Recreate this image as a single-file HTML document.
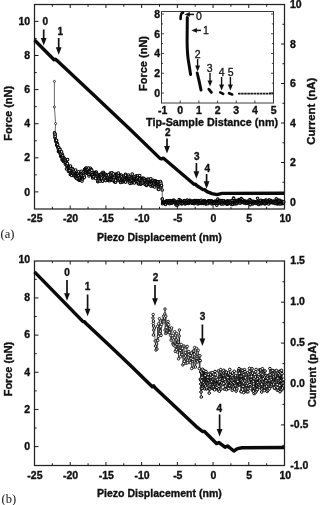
<!DOCTYPE html>
<html><head><meta charset="utf-8"><title>Figure</title>
<style>html,body{margin:0;padding:0;background:#fff}svg{display:block}</style></head>
<body>
<svg width="320" height="505" viewBox="0 0 320 505" font-family="Liberation Sans, sans-serif" fill="#111">
<rect width="320" height="505" fill="#fff"/>
<rect x="34.5" y="4.5" width="250.0" height="204.5" fill="none" stroke="#222" stroke-width="1.25"/>
<line x1="52.36" y1="209.00" x2="52.36" y2="206.80" stroke="#1a1a1a" stroke-width="1"/>
<line x1="52.36" y1="4.50" x2="52.36" y2="6.70" stroke="#1a1a1a" stroke-width="1"/>
<line x1="70.21" y1="209.00" x2="70.21" y2="205.50" stroke="#1a1a1a" stroke-width="1"/>
<line x1="70.21" y1="4.50" x2="70.21" y2="8.00" stroke="#1a1a1a" stroke-width="1"/>
<line x1="88.07" y1="209.00" x2="88.07" y2="206.80" stroke="#1a1a1a" stroke-width="1"/>
<line x1="88.07" y1="4.50" x2="88.07" y2="6.70" stroke="#1a1a1a" stroke-width="1"/>
<line x1="105.93" y1="209.00" x2="105.93" y2="205.50" stroke="#1a1a1a" stroke-width="1"/>
<line x1="105.93" y1="4.50" x2="105.93" y2="8.00" stroke="#1a1a1a" stroke-width="1"/>
<line x1="123.79" y1="209.00" x2="123.79" y2="206.80" stroke="#1a1a1a" stroke-width="1"/>
<line x1="123.79" y1="4.50" x2="123.79" y2="6.70" stroke="#1a1a1a" stroke-width="1"/>
<line x1="141.64" y1="209.00" x2="141.64" y2="205.50" stroke="#1a1a1a" stroke-width="1"/>
<line x1="141.64" y1="4.50" x2="141.64" y2="8.00" stroke="#1a1a1a" stroke-width="1"/>
<line x1="159.50" y1="209.00" x2="159.50" y2="206.80" stroke="#1a1a1a" stroke-width="1"/>
<line x1="159.50" y1="4.50" x2="159.50" y2="6.70" stroke="#1a1a1a" stroke-width="1"/>
<line x1="177.36" y1="209.00" x2="177.36" y2="205.50" stroke="#1a1a1a" stroke-width="1"/>
<line x1="177.36" y1="4.50" x2="177.36" y2="8.00" stroke="#1a1a1a" stroke-width="1"/>
<line x1="195.21" y1="209.00" x2="195.21" y2="206.80" stroke="#1a1a1a" stroke-width="1"/>
<line x1="195.21" y1="4.50" x2="195.21" y2="6.70" stroke="#1a1a1a" stroke-width="1"/>
<line x1="213.07" y1="209.00" x2="213.07" y2="205.50" stroke="#1a1a1a" stroke-width="1"/>
<line x1="213.07" y1="4.50" x2="213.07" y2="8.00" stroke="#1a1a1a" stroke-width="1"/>
<line x1="230.93" y1="209.00" x2="230.93" y2="206.80" stroke="#1a1a1a" stroke-width="1"/>
<line x1="230.93" y1="4.50" x2="230.93" y2="6.70" stroke="#1a1a1a" stroke-width="1"/>
<line x1="248.79" y1="209.00" x2="248.79" y2="205.50" stroke="#1a1a1a" stroke-width="1"/>
<line x1="248.79" y1="4.50" x2="248.79" y2="8.00" stroke="#1a1a1a" stroke-width="1"/>
<line x1="266.64" y1="209.00" x2="266.64" y2="206.80" stroke="#1a1a1a" stroke-width="1"/>
<line x1="266.64" y1="4.50" x2="266.64" y2="6.70" stroke="#1a1a1a" stroke-width="1"/>
<line x1="34.50" y1="191.90" x2="38.50" y2="191.90" stroke="#1a1a1a" stroke-width="1"/>
<line x1="34.50" y1="174.85" x2="36.70" y2="174.85" stroke="#1a1a1a" stroke-width="1"/>
<line x1="34.50" y1="157.80" x2="38.50" y2="157.80" stroke="#1a1a1a" stroke-width="1"/>
<line x1="34.50" y1="140.75" x2="36.70" y2="140.75" stroke="#1a1a1a" stroke-width="1"/>
<line x1="34.50" y1="123.70" x2="38.50" y2="123.70" stroke="#1a1a1a" stroke-width="1"/>
<line x1="34.50" y1="106.65" x2="36.70" y2="106.65" stroke="#1a1a1a" stroke-width="1"/>
<line x1="34.50" y1="89.60" x2="38.50" y2="89.60" stroke="#1a1a1a" stroke-width="1"/>
<line x1="34.50" y1="72.55" x2="36.70" y2="72.55" stroke="#1a1a1a" stroke-width="1"/>
<line x1="34.50" y1="55.50" x2="38.50" y2="55.50" stroke="#1a1a1a" stroke-width="1"/>
<line x1="34.50" y1="38.45" x2="36.70" y2="38.45" stroke="#1a1a1a" stroke-width="1"/>
<line x1="34.50" y1="21.40" x2="38.50" y2="21.40" stroke="#1a1a1a" stroke-width="1"/>
<line x1="284.50" y1="202.00" x2="281.00" y2="202.00" stroke="#1a1a1a" stroke-width="1"/>
<line x1="284.50" y1="182.25" x2="282.40" y2="182.25" stroke="#1a1a1a" stroke-width="1"/>
<line x1="284.50" y1="162.50" x2="281.00" y2="162.50" stroke="#1a1a1a" stroke-width="1"/>
<line x1="284.50" y1="142.75" x2="282.40" y2="142.75" stroke="#1a1a1a" stroke-width="1"/>
<line x1="284.50" y1="123.00" x2="281.00" y2="123.00" stroke="#1a1a1a" stroke-width="1"/>
<line x1="284.50" y1="103.25" x2="282.40" y2="103.25" stroke="#1a1a1a" stroke-width="1"/>
<line x1="284.50" y1="83.50" x2="281.00" y2="83.50" stroke="#1a1a1a" stroke-width="1"/>
<line x1="284.50" y1="63.75" x2="282.40" y2="63.75" stroke="#1a1a1a" stroke-width="1"/>
<line x1="284.50" y1="44.00" x2="281.00" y2="44.00" stroke="#1a1a1a" stroke-width="1"/>
<line x1="284.50" y1="24.25" x2="282.40" y2="24.25" stroke="#1a1a1a" stroke-width="1"/>
<text x="30.2" y="195.5" font-size="10.5" text-anchor="end" font-weight="bold" stroke="#111" stroke-width="0.35" >0</text>
<text x="30.2" y="161.4" font-size="10.5" text-anchor="end" font-weight="bold" stroke="#111" stroke-width="0.35" >2</text>
<text x="30.2" y="127.3" font-size="10.5" text-anchor="end" font-weight="bold" stroke="#111" stroke-width="0.35" >4</text>
<text x="30.2" y="93.2" font-size="10.5" text-anchor="end" font-weight="bold" stroke="#111" stroke-width="0.35" >6</text>
<text x="30.2" y="59.1" font-size="10.5" text-anchor="end" font-weight="bold" stroke="#111" stroke-width="0.35" >8</text>
<text x="30.2" y="25.0" font-size="10.5" text-anchor="end" font-weight="bold" stroke="#111" stroke-width="0.35" >10</text>
<text x="290" y="205.6" font-size="10.5" text-anchor="start" font-weight="bold" stroke="#111" stroke-width="0.35" >0</text>
<text x="290" y="166.1" font-size="10.5" text-anchor="start" font-weight="bold" stroke="#111" stroke-width="0.35" >2</text>
<text x="290" y="126.6" font-size="10.5" text-anchor="start" font-weight="bold" stroke="#111" stroke-width="0.35" >4</text>
<text x="290" y="87.1" font-size="10.5" text-anchor="start" font-weight="bold" stroke="#111" stroke-width="0.35" >6</text>
<text x="290" y="47.6" font-size="10.5" text-anchor="start" font-weight="bold" stroke="#111" stroke-width="0.35" >8</text>
<text x="290" y="7.8" font-size="10.5" text-anchor="start" font-weight="bold" stroke="#111" stroke-width="0.35" >10</text>
<text x="34.9" y="222.1" font-size="10.5" text-anchor="middle" font-weight="bold" stroke="#111" stroke-width="0.35" >-25</text>
<text x="70.60000000000001" y="222.1" font-size="10.5" text-anchor="middle" font-weight="bold" stroke="#111" stroke-width="0.35" >-20</text>
<text x="106.30000000000001" y="222.1" font-size="10.5" text-anchor="middle" font-weight="bold" stroke="#111" stroke-width="0.35" >-15</text>
<text x="142.0" y="222.1" font-size="10.5" text-anchor="middle" font-weight="bold" stroke="#111" stroke-width="0.35" >-10</text>
<text x="177.8" y="222.1" font-size="10.5" text-anchor="middle" font-weight="bold" stroke="#111" stroke-width="0.35" >-5</text>
<text x="213.4" y="222.1" font-size="10.5" text-anchor="middle" font-weight="bold" stroke="#111" stroke-width="0.35" >0</text>
<text x="249.10000000000002" y="222.1" font-size="10.5" text-anchor="middle" font-weight="bold" stroke="#111" stroke-width="0.35" >5</text>
<text x="285.3" y="222.1" font-size="10.5" text-anchor="middle" font-weight="bold" stroke="#111" stroke-width="0.35" >10</text>
<text x="12" y="113.3" font-size="11" text-anchor="middle" font-weight="bold" stroke="#111" stroke-width="0.35" textLength="55" lengthAdjust="spacingAndGlyphs" transform="rotate(-90 12 113.3)" >Force (nN)</text>
<text x="315.3" y="111.3" font-size="11" text-anchor="middle" font-weight="bold" stroke="#111" stroke-width="0.35" textLength="67" lengthAdjust="spacingAndGlyphs" transform="rotate(-90 315.3 111.3)" >Current (nA)</text>
<text x="97" y="241" font-size="11" text-anchor="start" font-weight="bold" stroke="#111" stroke-width="0.35" textLength="124.8" lengthAdjust="spacingAndGlyphs" >Piezo Displacement (nm)</text>
<text x="0.5" y="237.5" font-size="12.5" font-family="Liberation Serif, serif">(a)</text>
<path d="M55.0,134.0 L54.5,132.9 L54.9,134.6 L54.9,137.6 L55.2,136.2 L55.6,140.1 L55.9,141.6 L56.1,140.4 L56.5,140.6 L56.5,140.2 L56.7,145.3 L57.2,143.2 L57.2,143.7 L57.7,144.8 L57.8,147.1 L58.2,148.5 L58.4,151.5 L58.7,147.6 L58.8,150.4 L59.0,151.0 L59.5,150.9 L59.8,149.0 L59.9,149.5 L60.2,152.8 L60.2,153.8 L60.7,156.2 L60.8,153.6 L60.9,154.0 L61.2,156.6 L61.5,151.9 L61.7,156.8 L62.1,159.4 L62.3,154.2 L62.5,160.1 L62.7,155.9 L63.0,157.4 L63.2,157.8 L63.5,161.2 L63.9,159.9 L64.2,158.2 L64.5,162.0 L64.6,161.6 L64.7,159.2 L65.0,159.3 L65.2,160.2 L65.4,164.3 L65.9,161.2 L66.0,162.6 L66.5,168.9 L66.6,165.2 L66.8,163.7 L67.2,165.6 L67.4,163.6 L67.6,159.6 L68.0,167.8 L68.0,167.0 L68.4,171.3 L68.5,166.7 L69.0,167.6 L69.2,170.5 L69.3,166.2 L69.4,167.1 L70.0,170.6 L70.3,174.5 L70.2,167.4 L70.5,166.1 L71.0,168.5 L71.2,174.4 L71.5,173.9 L71.7,171.8 L71.8,175.5 L72.3,168.6 L72.4,170.7 L72.5,170.9 L72.7,173.7 L73.3,172.9 L73.2,169.9 L73.8,171.6 L73.8,175.7 L74.2,171.0 L74.2,175.2 L74.5,174.8 L74.8,175.4 L75.1,175.3 L75.4,175.9 L75.6,170.1 L75.7,177.5 L76.0,174.6 L76.3,173.9 L76.6,178.6 L76.7,174.4 L77.2,173.8 L77.5,174.3 L77.6,174.0 L77.8,175.8 L78.1,178.6 L78.5,171.8 L78.6,179.8 L78.7,175.1 L78.9,175.6 L79.5,180.2 L79.5,177.8 L80.0,179.7 L80.0,179.1 L80.5,179.8 L80.5,174.8 L80.7,174.7 L81.2,171.3 L81.2,174.4 L81.6,179.1 L82.0,181.1 L81.9,175.9 L82.3,173.2 L82.6,179.0 L82.7,177.7 L83.1,176.8 L83.4,174.3 L83.4,176.6 L83.7,175.5 L83.9,175.8 L84.4,177.3 L84.5,169.5 L84.7,170.1 L84.9,169.9 L85.5,171.5 L85.6,169.3 L85.8,168.0 L86.2,172.3 L86.5,169.2 L86.7,168.4 L86.8,171.0 L87.2,173.4 L87.4,173.3 L87.6,169.6 L87.7,172.2 L88.0,169.2 L88.5,172.7 L88.5,168.1 L88.7,171.4 L89.0,175.9 L89.2,174.5 L89.5,171.1 L89.8,171.4 L90.0,172.5 L90.2,171.2 L90.4,168.2 L90.9,173.6 L91.2,173.7 L91.3,169.6 L91.8,170.4 L91.7,174.9 L92.3,174.9 L92.2,172.5 L92.6,178.0 L92.9,176.1 L93.2,176.7 L93.2,174.5 L93.4,176.8 L93.9,176.7 L94.1,172.6 L94.4,174.7 L94.7,172.8 L94.7,173.7 L95.2,174.0 L95.3,172.7 L95.6,178.4 L95.9,172.0 L96.0,175.0 L96.4,172.2 L96.4,174.4 L96.9,173.8 L97.1,176.2 L97.5,174.7 L97.8,181.7 L98.0,180.9 L98.1,175.8 L98.2,180.2 L98.5,177.8 L99.0,176.9 L99.3,178.9 L99.3,175.5 L99.4,176.0 L99.7,176.0 L100.0,181.1 L100.5,174.4 L100.8,179.2 L100.8,175.7 L101.3,176.9 L101.3,174.8 L101.4,178.7 L101.7,177.9 L102.1,173.0 L102.5,181.1 L102.7,181.1 L102.9,173.4 L103.2,176.7 L103.3,172.4 L103.8,173.5 L103.8,178.8 L104.3,174.9 L104.4,175.5 L104.5,175.4 L104.8,177.5 L105.3,179.9 L105.2,174.5 L105.5,174.4 L105.9,180.6 L106.2,175.4 L106.3,176.8 L106.4,176.2 L106.9,178.0 L107.2,175.2 L107.3,177.7 L107.8,179.8 L107.7,178.5 L108.3,177.1 L108.3,180.2 L108.7,180.6 L108.7,174.9 L109.1,180.2 L109.4,178.6 L109.6,179.6 L109.7,180.7 L110.2,176.7 L110.4,179.4 L110.4,173.1 L110.8,175.4 L111.1,173.8 L111.5,179.7 L111.8,177.5 L112.0,179.8 L112.0,172.7 L112.3,176.0 L112.7,180.5 L112.8,177.4 L113.2,176.1 L113.4,173.9 L113.8,176.7 L113.7,178.8 L114.0,180.1 L114.2,177.2 L114.7,181.5 L114.7,181.9 L115.0,175.8 L115.5,180.8 L115.7,182.1 L115.7,180.4 L116.2,174.1 L116.3,175.8 L116.5,174.3 L117.0,176.4 L117.3,174.7 L117.5,179.1 L117.4,176.1 L117.7,178.8 L118.3,173.1 L118.5,176.0 L118.4,175.8 L118.9,180.4 L119.0,178.0 L119.3,179.2 L119.5,178.5 L120.0,179.1 L120.3,175.1 L120.5,182.5 L120.6,175.4 L121.0,176.6 L121.2,180.7 L121.4,175.4 L121.5,177.5 L121.7,179.6 L122.0,176.7 L122.3,181.9 L122.8,181.7 L122.7,178.9 L123.2,178.2 L123.4,180.8 L123.7,180.5 L124.0,176.6 L124.1,177.6 L124.2,176.1 L124.5,180.3 L124.8,181.5 L125.1,177.3 L125.5,174.4 L125.6,182.1 L125.7,175.2 L125.9,178.0 L126.5,177.6 L126.7,178.3 L127.0,178.0 L127.1,179.8 L127.2,177.8 L127.5,179.0 L127.7,177.0 L128.2,176.4 L128.5,179.9 L128.4,175.1 L128.9,177.0 L129.0,179.5 L129.3,182.5 L129.5,178.7 L130.0,183.3 L130.0,176.9 L130.2,181.0 L130.6,179.4 L130.8,178.1 L130.9,178.0 L131.2,178.2 L131.5,179.8 L131.9,182.9 L131.9,180.2 L132.2,174.1 L132.8,182.3 L133.0,178.7 L133.3,180.6 L133.5,177.0 L133.6,182.2 L133.7,178.3 L134.1,179.4 L134.4,182.9 L134.4,180.1 L135.0,176.8 L135.1,179.4 L135.3,179.7 L135.6,179.8 L135.7,181.1 L136.1,178.3 L136.3,175.9 L136.6,178.1 L136.7,180.5 L137.1,176.6 L137.4,181.6 L137.6,176.0 L138.0,177.7 L138.2,183.4 L138.2,181.5 L138.6,184.0 L139.0,182.9 L138.9,179.4 L139.5,178.2 L139.7,175.5 L139.7,178.8 L140.1,180.0 L140.2,183.7 L140.7,184.2 L140.7,182.5 L141.2,180.7 L141.4,182.3 L141.4,183.3 L142.0,178.4 L142.3,180.1 L142.3,180.1 L142.7,178.2 L142.9,183.5 L143.1,182.1 L143.2,178.7 L143.6,178.2 L143.7,179.0 L144.2,178.9 L144.2,180.2 L144.5,181.1 L144.9,180.7 L145.0,184.3 L145.2,182.9 L145.7,182.6 L145.7,182.9 L146.1,179.7 L146.5,182.1 L146.5,185.5 L146.8,180.1 L146.9,184.8 L147.5,179.3 L147.5,180.8 L148.0,179.4 L148.0,182.6 L148.5,183.9 L148.4,184.1 L148.9,180.3 L149.0,179.2 L149.3,183.9 L149.7,184.1 L149.9,180.7 L150.2,182.0 L150.5,181.8 L150.8,178.8 L150.9,186.1 L151.2,181.9 L151.2,184.5 L151.7,182.3 L151.8,182.3 L152.2,183.5 L152.4,182.1 L152.5,185.8 L152.7,180.8 L152.9,185.5 L153.2,180.4 L153.7,183.4 L153.7,182.1 L154.0,186.4 L154.2,183.8 L154.8,187.0 L154.7,180.8 L155.2,184.3 L155.4,180.7 L155.4,181.0 L155.8,182.6 L155.9,181.9 L156.3,184.5 L156.8,185.0 L156.7,182.3 L157.1,185.1 L157.4,183.8 L157.7,181.9 L157.7,181.8 L158.2,189.1 L158.3,186.6 L158.5,183.4 L158.8,189.4 L159.0,182.4 L159.2,184.6 L159.4,186.2 L159.9,182.2 L160.1,184.7 L160.5,181.6 L160.5,184.6 L160.8,187.1 L161.0,183.2 L161.5,186.0 L161.5,185.5 L162.2,190.0 L162.3,199.0" stroke="#000" stroke-width="0.6" fill="none"/>
<g fill="#fff" stroke="#000" stroke-width="1.05">
<circle cx="55.0" cy="134.0" r="1.3"/>
<circle cx="54.5" cy="132.9" r="1.3"/>
<circle cx="54.9" cy="134.6" r="1.3"/>
<circle cx="54.9" cy="137.6" r="1.3"/>
<circle cx="55.2" cy="136.2" r="1.3"/>
<circle cx="55.6" cy="140.1" r="1.3"/>
<circle cx="55.9" cy="141.6" r="1.3"/>
<circle cx="56.1" cy="140.4" r="1.3"/>
<circle cx="56.5" cy="140.6" r="1.3"/>
<circle cx="56.5" cy="140.2" r="1.3"/>
<circle cx="56.7" cy="145.3" r="1.3"/>
<circle cx="57.2" cy="143.2" r="1.3"/>
<circle cx="57.2" cy="143.7" r="1.3"/>
<circle cx="57.7" cy="144.8" r="1.3"/>
<circle cx="57.8" cy="147.1" r="1.3"/>
<circle cx="58.2" cy="148.5" r="1.3"/>
<circle cx="58.4" cy="151.5" r="1.3"/>
<circle cx="58.7" cy="147.6" r="1.3"/>
<circle cx="58.8" cy="150.4" r="1.3"/>
<circle cx="59.0" cy="151.0" r="1.3"/>
<circle cx="59.5" cy="150.9" r="1.3"/>
<circle cx="59.8" cy="149.0" r="1.3"/>
<circle cx="59.9" cy="149.5" r="1.3"/>
<circle cx="60.2" cy="152.8" r="1.3"/>
<circle cx="60.2" cy="153.8" r="1.3"/>
<circle cx="60.7" cy="156.2" r="1.3"/>
<circle cx="60.8" cy="153.6" r="1.3"/>
<circle cx="60.9" cy="154.0" r="1.3"/>
<circle cx="61.2" cy="156.6" r="1.3"/>
<circle cx="61.5" cy="151.9" r="1.3"/>
<circle cx="61.7" cy="156.8" r="1.3"/>
<circle cx="62.1" cy="159.4" r="1.3"/>
<circle cx="62.3" cy="154.2" r="1.3"/>
<circle cx="62.5" cy="160.1" r="1.3"/>
<circle cx="62.7" cy="155.9" r="1.3"/>
<circle cx="63.0" cy="157.4" r="1.3"/>
<circle cx="63.2" cy="157.8" r="1.3"/>
<circle cx="63.5" cy="161.2" r="1.3"/>
<circle cx="63.9" cy="159.9" r="1.3"/>
<circle cx="64.2" cy="158.2" r="1.3"/>
<circle cx="64.5" cy="162.0" r="1.3"/>
<circle cx="64.6" cy="161.6" r="1.3"/>
<circle cx="64.7" cy="159.2" r="1.3"/>
<circle cx="65.0" cy="159.3" r="1.3"/>
<circle cx="65.2" cy="160.2" r="1.3"/>
<circle cx="65.4" cy="164.3" r="1.3"/>
<circle cx="65.9" cy="161.2" r="1.3"/>
<circle cx="66.0" cy="162.6" r="1.3"/>
<circle cx="66.5" cy="168.9" r="1.3"/>
<circle cx="66.6" cy="165.2" r="1.3"/>
<circle cx="66.8" cy="163.7" r="1.3"/>
<circle cx="67.2" cy="165.6" r="1.3"/>
<circle cx="67.4" cy="163.6" r="1.3"/>
<circle cx="67.6" cy="159.6" r="1.3"/>
<circle cx="68.0" cy="167.8" r="1.3"/>
<circle cx="68.0" cy="167.0" r="1.3"/>
<circle cx="68.4" cy="171.3" r="1.3"/>
<circle cx="68.5" cy="166.7" r="1.3"/>
<circle cx="69.0" cy="167.6" r="1.3"/>
<circle cx="69.2" cy="170.5" r="1.3"/>
<circle cx="69.3" cy="166.2" r="1.3"/>
<circle cx="69.4" cy="167.1" r="1.3"/>
<circle cx="70.0" cy="170.6" r="1.3"/>
<circle cx="70.3" cy="174.5" r="1.3"/>
<circle cx="70.2" cy="167.4" r="1.3"/>
<circle cx="70.5" cy="166.1" r="1.3"/>
<circle cx="71.0" cy="168.5" r="1.3"/>
<circle cx="71.2" cy="174.4" r="1.3"/>
<circle cx="71.5" cy="173.9" r="1.3"/>
<circle cx="71.7" cy="171.8" r="1.3"/>
<circle cx="71.8" cy="175.5" r="1.3"/>
<circle cx="72.3" cy="168.6" r="1.3"/>
<circle cx="72.4" cy="170.7" r="1.3"/>
<circle cx="72.5" cy="170.9" r="1.3"/>
<circle cx="72.7" cy="173.7" r="1.3"/>
<circle cx="73.3" cy="172.9" r="1.3"/>
<circle cx="73.2" cy="169.9" r="1.3"/>
<circle cx="73.8" cy="171.6" r="1.3"/>
<circle cx="73.8" cy="175.7" r="1.3"/>
<circle cx="74.2" cy="171.0" r="1.3"/>
<circle cx="74.2" cy="175.2" r="1.3"/>
<circle cx="74.5" cy="174.8" r="1.3"/>
<circle cx="74.8" cy="175.4" r="1.3"/>
<circle cx="75.1" cy="175.3" r="1.3"/>
<circle cx="75.4" cy="175.9" r="1.3"/>
<circle cx="75.6" cy="170.1" r="1.3"/>
<circle cx="75.7" cy="177.5" r="1.3"/>
<circle cx="76.0" cy="174.6" r="1.3"/>
<circle cx="76.3" cy="173.9" r="1.3"/>
<circle cx="76.6" cy="178.6" r="1.3"/>
<circle cx="76.7" cy="174.4" r="1.3"/>
<circle cx="77.2" cy="173.8" r="1.3"/>
<circle cx="77.5" cy="174.3" r="1.3"/>
<circle cx="77.6" cy="174.0" r="1.3"/>
<circle cx="77.8" cy="175.8" r="1.3"/>
<circle cx="78.1" cy="178.6" r="1.3"/>
<circle cx="78.5" cy="171.8" r="1.3"/>
<circle cx="78.6" cy="179.8" r="1.3"/>
<circle cx="78.7" cy="175.1" r="1.3"/>
<circle cx="78.9" cy="175.6" r="1.3"/>
<circle cx="79.5" cy="180.2" r="1.3"/>
<circle cx="79.5" cy="177.8" r="1.3"/>
<circle cx="80.0" cy="179.7" r="1.3"/>
<circle cx="80.0" cy="179.1" r="1.3"/>
<circle cx="80.5" cy="179.8" r="1.3"/>
<circle cx="80.5" cy="174.8" r="1.3"/>
<circle cx="80.7" cy="174.7" r="1.3"/>
<circle cx="81.2" cy="171.3" r="1.3"/>
<circle cx="81.2" cy="174.4" r="1.3"/>
<circle cx="81.6" cy="179.1" r="1.3"/>
<circle cx="82.0" cy="181.1" r="1.3"/>
<circle cx="81.9" cy="175.9" r="1.3"/>
<circle cx="82.3" cy="173.2" r="1.3"/>
<circle cx="82.6" cy="179.0" r="1.3"/>
<circle cx="82.7" cy="177.7" r="1.3"/>
<circle cx="83.1" cy="176.8" r="1.3"/>
<circle cx="83.4" cy="174.3" r="1.3"/>
<circle cx="83.4" cy="176.6" r="1.3"/>
<circle cx="83.7" cy="175.5" r="1.3"/>
<circle cx="83.9" cy="175.8" r="1.3"/>
<circle cx="84.4" cy="177.3" r="1.3"/>
<circle cx="84.5" cy="169.5" r="1.3"/>
<circle cx="84.7" cy="170.1" r="1.3"/>
<circle cx="84.9" cy="169.9" r="1.3"/>
<circle cx="85.5" cy="171.5" r="1.3"/>
<circle cx="85.6" cy="169.3" r="1.3"/>
<circle cx="85.8" cy="168.0" r="1.3"/>
<circle cx="86.2" cy="172.3" r="1.3"/>
<circle cx="86.5" cy="169.2" r="1.3"/>
<circle cx="86.7" cy="168.4" r="1.3"/>
<circle cx="86.8" cy="171.0" r="1.3"/>
<circle cx="87.2" cy="173.4" r="1.3"/>
<circle cx="87.4" cy="173.3" r="1.3"/>
<circle cx="87.6" cy="169.6" r="1.3"/>
<circle cx="87.7" cy="172.2" r="1.3"/>
<circle cx="88.0" cy="169.2" r="1.3"/>
<circle cx="88.5" cy="172.7" r="1.3"/>
<circle cx="88.5" cy="168.1" r="1.3"/>
<circle cx="88.7" cy="171.4" r="1.3"/>
<circle cx="89.0" cy="175.9" r="1.3"/>
<circle cx="89.2" cy="174.5" r="1.3"/>
<circle cx="89.5" cy="171.1" r="1.3"/>
<circle cx="89.8" cy="171.4" r="1.3"/>
<circle cx="90.0" cy="172.5" r="1.3"/>
<circle cx="90.2" cy="171.2" r="1.3"/>
<circle cx="90.4" cy="168.2" r="1.3"/>
<circle cx="90.9" cy="173.6" r="1.3"/>
<circle cx="91.2" cy="173.7" r="1.3"/>
<circle cx="91.3" cy="169.6" r="1.3"/>
<circle cx="91.8" cy="170.4" r="1.3"/>
<circle cx="91.7" cy="174.9" r="1.3"/>
<circle cx="92.3" cy="174.9" r="1.3"/>
<circle cx="92.2" cy="172.5" r="1.3"/>
<circle cx="92.6" cy="178.0" r="1.3"/>
<circle cx="92.9" cy="176.1" r="1.3"/>
<circle cx="93.2" cy="176.7" r="1.3"/>
<circle cx="93.2" cy="174.5" r="1.3"/>
<circle cx="93.4" cy="176.8" r="1.3"/>
<circle cx="93.9" cy="176.7" r="1.3"/>
<circle cx="94.1" cy="172.6" r="1.3"/>
<circle cx="94.4" cy="174.7" r="1.3"/>
<circle cx="94.7" cy="172.8" r="1.3"/>
<circle cx="94.7" cy="173.7" r="1.3"/>
<circle cx="95.2" cy="174.0" r="1.3"/>
<circle cx="95.3" cy="172.7" r="1.3"/>
<circle cx="95.6" cy="178.4" r="1.3"/>
<circle cx="95.9" cy="172.0" r="1.3"/>
<circle cx="96.0" cy="175.0" r="1.3"/>
<circle cx="96.4" cy="172.2" r="1.3"/>
<circle cx="96.4" cy="174.4" r="1.3"/>
<circle cx="96.9" cy="173.8" r="1.3"/>
<circle cx="97.1" cy="176.2" r="1.3"/>
<circle cx="97.5" cy="174.7" r="1.3"/>
<circle cx="97.8" cy="181.7" r="1.3"/>
<circle cx="98.0" cy="180.9" r="1.3"/>
<circle cx="98.1" cy="175.8" r="1.3"/>
<circle cx="98.2" cy="180.2" r="1.3"/>
<circle cx="98.5" cy="177.8" r="1.3"/>
<circle cx="99.0" cy="176.9" r="1.3"/>
<circle cx="99.3" cy="178.9" r="1.3"/>
<circle cx="99.3" cy="175.5" r="1.3"/>
<circle cx="99.4" cy="176.0" r="1.3"/>
<circle cx="99.7" cy="176.0" r="1.3"/>
<circle cx="100.0" cy="181.1" r="1.3"/>
<circle cx="100.5" cy="174.4" r="1.3"/>
<circle cx="100.8" cy="179.2" r="1.3"/>
<circle cx="100.8" cy="175.7" r="1.3"/>
<circle cx="101.3" cy="176.9" r="1.3"/>
<circle cx="101.3" cy="174.8" r="1.3"/>
<circle cx="101.4" cy="178.7" r="1.3"/>
<circle cx="101.7" cy="177.9" r="1.3"/>
<circle cx="102.1" cy="173.0" r="1.3"/>
<circle cx="102.5" cy="181.1" r="1.3"/>
<circle cx="102.7" cy="181.1" r="1.3"/>
<circle cx="102.9" cy="173.4" r="1.3"/>
<circle cx="103.2" cy="176.7" r="1.3"/>
<circle cx="103.3" cy="172.4" r="1.3"/>
<circle cx="103.8" cy="173.5" r="1.3"/>
<circle cx="103.8" cy="178.8" r="1.3"/>
<circle cx="104.3" cy="174.9" r="1.3"/>
<circle cx="104.4" cy="175.5" r="1.3"/>
<circle cx="104.5" cy="175.4" r="1.3"/>
<circle cx="104.8" cy="177.5" r="1.3"/>
<circle cx="105.3" cy="179.9" r="1.3"/>
<circle cx="105.2" cy="174.5" r="1.3"/>
<circle cx="105.5" cy="174.4" r="1.3"/>
<circle cx="105.9" cy="180.6" r="1.3"/>
<circle cx="106.2" cy="175.4" r="1.3"/>
<circle cx="106.3" cy="176.8" r="1.3"/>
<circle cx="106.4" cy="176.2" r="1.3"/>
<circle cx="106.9" cy="178.0" r="1.3"/>
<circle cx="107.2" cy="175.2" r="1.3"/>
<circle cx="107.3" cy="177.7" r="1.3"/>
<circle cx="107.8" cy="179.8" r="1.3"/>
<circle cx="107.7" cy="178.5" r="1.3"/>
<circle cx="108.3" cy="177.1" r="1.3"/>
<circle cx="108.3" cy="180.2" r="1.3"/>
<circle cx="108.7" cy="180.6" r="1.3"/>
<circle cx="108.7" cy="174.9" r="1.3"/>
<circle cx="109.1" cy="180.2" r="1.3"/>
<circle cx="109.4" cy="178.6" r="1.3"/>
<circle cx="109.6" cy="179.6" r="1.3"/>
<circle cx="109.7" cy="180.7" r="1.3"/>
<circle cx="110.2" cy="176.7" r="1.3"/>
<circle cx="110.4" cy="179.4" r="1.3"/>
<circle cx="110.4" cy="173.1" r="1.3"/>
<circle cx="110.8" cy="175.4" r="1.3"/>
<circle cx="111.1" cy="173.8" r="1.3"/>
<circle cx="111.5" cy="179.7" r="1.3"/>
<circle cx="111.8" cy="177.5" r="1.3"/>
<circle cx="112.0" cy="179.8" r="1.3"/>
<circle cx="112.0" cy="172.7" r="1.3"/>
<circle cx="112.3" cy="176.0" r="1.3"/>
<circle cx="112.7" cy="180.5" r="1.3"/>
<circle cx="112.8" cy="177.4" r="1.3"/>
<circle cx="113.2" cy="176.1" r="1.3"/>
<circle cx="113.4" cy="173.9" r="1.3"/>
<circle cx="113.8" cy="176.7" r="1.3"/>
<circle cx="113.7" cy="178.8" r="1.3"/>
<circle cx="114.0" cy="180.1" r="1.3"/>
<circle cx="114.2" cy="177.2" r="1.3"/>
<circle cx="114.7" cy="181.5" r="1.3"/>
<circle cx="114.7" cy="181.9" r="1.3"/>
<circle cx="115.0" cy="175.8" r="1.3"/>
<circle cx="115.5" cy="180.8" r="1.3"/>
<circle cx="115.7" cy="182.1" r="1.3"/>
<circle cx="115.7" cy="180.4" r="1.3"/>
<circle cx="116.2" cy="174.1" r="1.3"/>
<circle cx="116.3" cy="175.8" r="1.3"/>
<circle cx="116.5" cy="174.3" r="1.3"/>
<circle cx="117.0" cy="176.4" r="1.3"/>
<circle cx="117.3" cy="174.7" r="1.3"/>
<circle cx="117.5" cy="179.1" r="1.3"/>
<circle cx="117.4" cy="176.1" r="1.3"/>
<circle cx="117.7" cy="178.8" r="1.3"/>
<circle cx="118.3" cy="173.1" r="1.3"/>
<circle cx="118.5" cy="176.0" r="1.3"/>
<circle cx="118.4" cy="175.8" r="1.3"/>
<circle cx="118.9" cy="180.4" r="1.3"/>
<circle cx="119.0" cy="178.0" r="1.3"/>
<circle cx="119.3" cy="179.2" r="1.3"/>
<circle cx="119.5" cy="178.5" r="1.3"/>
<circle cx="120.0" cy="179.1" r="1.3"/>
<circle cx="120.3" cy="175.1" r="1.3"/>
<circle cx="120.5" cy="182.5" r="1.3"/>
<circle cx="120.6" cy="175.4" r="1.3"/>
<circle cx="121.0" cy="176.6" r="1.3"/>
<circle cx="121.2" cy="180.7" r="1.3"/>
<circle cx="121.4" cy="175.4" r="1.3"/>
<circle cx="121.5" cy="177.5" r="1.3"/>
<circle cx="121.7" cy="179.6" r="1.3"/>
<circle cx="122.0" cy="176.7" r="1.3"/>
<circle cx="122.3" cy="181.9" r="1.3"/>
<circle cx="122.8" cy="181.7" r="1.3"/>
<circle cx="122.7" cy="178.9" r="1.3"/>
<circle cx="123.2" cy="178.2" r="1.3"/>
<circle cx="123.4" cy="180.8" r="1.3"/>
<circle cx="123.7" cy="180.5" r="1.3"/>
<circle cx="124.0" cy="176.6" r="1.3"/>
<circle cx="124.1" cy="177.6" r="1.3"/>
<circle cx="124.2" cy="176.1" r="1.3"/>
<circle cx="124.5" cy="180.3" r="1.3"/>
<circle cx="124.8" cy="181.5" r="1.3"/>
<circle cx="125.1" cy="177.3" r="1.3"/>
<circle cx="125.5" cy="174.4" r="1.3"/>
<circle cx="125.6" cy="182.1" r="1.3"/>
<circle cx="125.7" cy="175.2" r="1.3"/>
<circle cx="125.9" cy="178.0" r="1.3"/>
<circle cx="126.5" cy="177.6" r="1.3"/>
<circle cx="126.7" cy="178.3" r="1.3"/>
<circle cx="127.0" cy="178.0" r="1.3"/>
<circle cx="127.1" cy="179.8" r="1.3"/>
<circle cx="127.2" cy="177.8" r="1.3"/>
<circle cx="127.5" cy="179.0" r="1.3"/>
<circle cx="127.7" cy="177.0" r="1.3"/>
<circle cx="128.2" cy="176.4" r="1.3"/>
<circle cx="128.5" cy="179.9" r="1.3"/>
<circle cx="128.4" cy="175.1" r="1.3"/>
<circle cx="128.9" cy="177.0" r="1.3"/>
<circle cx="129.0" cy="179.5" r="1.3"/>
<circle cx="129.3" cy="182.5" r="1.3"/>
<circle cx="129.5" cy="178.7" r="1.3"/>
<circle cx="130.0" cy="183.3" r="1.3"/>
<circle cx="130.0" cy="176.9" r="1.3"/>
<circle cx="130.2" cy="181.0" r="1.3"/>
<circle cx="130.6" cy="179.4" r="1.3"/>
<circle cx="130.8" cy="178.1" r="1.3"/>
<circle cx="130.9" cy="178.0" r="1.3"/>
<circle cx="131.2" cy="178.2" r="1.3"/>
<circle cx="131.5" cy="179.8" r="1.3"/>
<circle cx="131.9" cy="182.9" r="1.3"/>
<circle cx="131.9" cy="180.2" r="1.3"/>
<circle cx="132.2" cy="174.1" r="1.3"/>
<circle cx="132.8" cy="182.3" r="1.3"/>
<circle cx="133.0" cy="178.7" r="1.3"/>
<circle cx="133.3" cy="180.6" r="1.3"/>
<circle cx="133.5" cy="177.0" r="1.3"/>
<circle cx="133.6" cy="182.2" r="1.3"/>
<circle cx="133.7" cy="178.3" r="1.3"/>
<circle cx="134.1" cy="179.4" r="1.3"/>
<circle cx="134.4" cy="182.9" r="1.3"/>
<circle cx="134.4" cy="180.1" r="1.3"/>
<circle cx="135.0" cy="176.8" r="1.3"/>
<circle cx="135.1" cy="179.4" r="1.3"/>
<circle cx="135.3" cy="179.7" r="1.3"/>
<circle cx="135.6" cy="179.8" r="1.3"/>
<circle cx="135.7" cy="181.1" r="1.3"/>
<circle cx="136.1" cy="178.3" r="1.3"/>
<circle cx="136.3" cy="175.9" r="1.3"/>
<circle cx="136.6" cy="178.1" r="1.3"/>
<circle cx="136.7" cy="180.5" r="1.3"/>
<circle cx="137.1" cy="176.6" r="1.3"/>
<circle cx="137.4" cy="181.6" r="1.3"/>
<circle cx="137.6" cy="176.0" r="1.3"/>
<circle cx="138.0" cy="177.7" r="1.3"/>
<circle cx="138.2" cy="183.4" r="1.3"/>
<circle cx="138.2" cy="181.5" r="1.3"/>
<circle cx="138.6" cy="184.0" r="1.3"/>
<circle cx="139.0" cy="182.9" r="1.3"/>
<circle cx="138.9" cy="179.4" r="1.3"/>
<circle cx="139.5" cy="178.2" r="1.3"/>
<circle cx="139.7" cy="175.5" r="1.3"/>
<circle cx="139.7" cy="178.8" r="1.3"/>
<circle cx="140.1" cy="180.0" r="1.3"/>
<circle cx="140.2" cy="183.7" r="1.3"/>
<circle cx="140.7" cy="184.2" r="1.3"/>
<circle cx="140.7" cy="182.5" r="1.3"/>
<circle cx="141.2" cy="180.7" r="1.3"/>
<circle cx="141.4" cy="182.3" r="1.3"/>
<circle cx="141.4" cy="183.3" r="1.3"/>
<circle cx="142.0" cy="178.4" r="1.3"/>
<circle cx="142.3" cy="180.1" r="1.3"/>
<circle cx="142.3" cy="180.1" r="1.3"/>
<circle cx="142.7" cy="178.2" r="1.3"/>
<circle cx="142.9" cy="183.5" r="1.3"/>
<circle cx="143.1" cy="182.1" r="1.3"/>
<circle cx="143.2" cy="178.7" r="1.3"/>
<circle cx="143.6" cy="178.2" r="1.3"/>
<circle cx="143.7" cy="179.0" r="1.3"/>
<circle cx="144.2" cy="178.9" r="1.3"/>
<circle cx="144.2" cy="180.2" r="1.3"/>
<circle cx="144.5" cy="181.1" r="1.3"/>
<circle cx="144.9" cy="180.7" r="1.3"/>
<circle cx="145.0" cy="184.3" r="1.3"/>
<circle cx="145.2" cy="182.9" r="1.3"/>
<circle cx="145.7" cy="182.6" r="1.3"/>
<circle cx="145.7" cy="182.9" r="1.3"/>
<circle cx="146.1" cy="179.7" r="1.3"/>
<circle cx="146.5" cy="182.1" r="1.3"/>
<circle cx="146.5" cy="185.5" r="1.3"/>
<circle cx="146.8" cy="180.1" r="1.3"/>
<circle cx="146.9" cy="184.8" r="1.3"/>
<circle cx="147.5" cy="179.3" r="1.3"/>
<circle cx="147.5" cy="180.8" r="1.3"/>
<circle cx="148.0" cy="179.4" r="1.3"/>
<circle cx="148.0" cy="182.6" r="1.3"/>
<circle cx="148.5" cy="183.9" r="1.3"/>
<circle cx="148.4" cy="184.1" r="1.3"/>
<circle cx="148.9" cy="180.3" r="1.3"/>
<circle cx="149.0" cy="179.2" r="1.3"/>
<circle cx="149.3" cy="183.9" r="1.3"/>
<circle cx="149.7" cy="184.1" r="1.3"/>
<circle cx="149.9" cy="180.7" r="1.3"/>
<circle cx="150.2" cy="182.0" r="1.3"/>
<circle cx="150.5" cy="181.8" r="1.3"/>
<circle cx="150.8" cy="178.8" r="1.3"/>
<circle cx="150.9" cy="186.1" r="1.3"/>
<circle cx="151.2" cy="181.9" r="1.3"/>
<circle cx="151.2" cy="184.5" r="1.3"/>
<circle cx="151.7" cy="182.3" r="1.3"/>
<circle cx="151.8" cy="182.3" r="1.3"/>
<circle cx="152.2" cy="183.5" r="1.3"/>
<circle cx="152.4" cy="182.1" r="1.3"/>
<circle cx="152.5" cy="185.8" r="1.3"/>
<circle cx="152.7" cy="180.8" r="1.3"/>
<circle cx="152.9" cy="185.5" r="1.3"/>
<circle cx="153.2" cy="180.4" r="1.3"/>
<circle cx="153.7" cy="183.4" r="1.3"/>
<circle cx="153.7" cy="182.1" r="1.3"/>
<circle cx="154.0" cy="186.4" r="1.3"/>
<circle cx="154.2" cy="183.8" r="1.3"/>
<circle cx="154.8" cy="187.0" r="1.3"/>
<circle cx="154.7" cy="180.8" r="1.3"/>
<circle cx="155.2" cy="184.3" r="1.3"/>
<circle cx="155.4" cy="180.7" r="1.3"/>
<circle cx="155.4" cy="181.0" r="1.3"/>
<circle cx="155.8" cy="182.6" r="1.3"/>
<circle cx="155.9" cy="181.9" r="1.3"/>
<circle cx="156.3" cy="184.5" r="1.3"/>
<circle cx="156.8" cy="185.0" r="1.3"/>
<circle cx="156.7" cy="182.3" r="1.3"/>
<circle cx="157.1" cy="185.1" r="1.3"/>
<circle cx="157.4" cy="183.8" r="1.3"/>
<circle cx="157.7" cy="181.9" r="1.3"/>
<circle cx="157.7" cy="181.8" r="1.3"/>
<circle cx="158.2" cy="189.1" r="1.3"/>
<circle cx="158.3" cy="186.6" r="1.3"/>
<circle cx="158.5" cy="183.4" r="1.3"/>
<circle cx="158.8" cy="189.4" r="1.3"/>
<circle cx="159.0" cy="182.4" r="1.3"/>
<circle cx="159.2" cy="184.6" r="1.3"/>
<circle cx="159.4" cy="186.2" r="1.3"/>
<circle cx="159.9" cy="182.2" r="1.3"/>
<circle cx="160.1" cy="184.7" r="1.3"/>
<circle cx="160.5" cy="181.6" r="1.3"/>
<circle cx="160.5" cy="184.6" r="1.3"/>
<circle cx="160.8" cy="187.1" r="1.3"/>
<circle cx="161.0" cy="183.2" r="1.3"/>
<circle cx="161.5" cy="186.0" r="1.3"/>
<circle cx="161.5" cy="185.5" r="1.3"/>
<circle cx="162.2" cy="190.0" r="1.3"/>
<circle cx="162.3" cy="199.0" r="1.3"/>
</g>
<path d="M54.4,81.4 L54.4,107.0 L55.6,123.6 L55.0,134.0" stroke="#000" stroke-width="0.6" fill="none"/>
<g fill="#fff" stroke="#000" stroke-width="0.7">
<circle cx="54.4" cy="81.4" r="1.05"/>
<circle cx="54.4" cy="107.0" r="1.05"/>
<circle cx="55.6" cy="123.6" r="1.05"/>
<circle cx="55.0" cy="134.0" r="1.05"/>
</g>
<path d="M162.3,199.0 L162.5,203.7 L162.8,202.2 L163.0,201.6 L163.2,201.8 L163.5,202.0 L163.8,202.2 L164.0,202.8 L164.2,202.5 L164.5,201.7 L164.8,201.7 L165.0,203.2 L165.2,203.2 L165.5,204.6 L165.8,202.6 L166.0,202.1 L166.2,202.6 L166.5,200.7 L166.8,201.9 L167.0,201.9 L167.2,203.1 L167.5,202.4 L167.8,200.9 L168.0,202.2 L168.2,201.4 L168.5,201.6 L168.8,201.1 L169.0,202.7 L169.2,202.4 L169.5,203.7 L169.8,201.6 L170.0,200.4 L170.2,201.4 L170.5,202.4 L170.8,200.7 L171.0,203.0 L171.2,202.2 L171.5,203.2 L171.8,201.0 L172.0,203.0 L172.2,201.3 L172.5,200.8 L172.8,202.5 L173.0,202.2 L173.2,202.6 L173.5,200.0 L173.8,201.1 L174.0,201.7 L174.2,201.1 L174.5,200.8 L174.8,202.8 L175.0,202.0 L175.2,202.2 L175.5,201.7 L175.8,202.9 L176.0,205.0 L176.2,203.4 L176.5,201.5 L176.8,202.8 L177.0,202.7 L177.2,205.2 L177.5,201.7 L177.8,203.3 L178.0,204.1 L178.2,202.7 L178.5,203.5 L178.8,203.1 L179.0,203.3 L179.2,199.5 L179.5,203.8 L179.8,202.4 L180.0,201.1 L180.2,201.8 L180.5,200.8 L180.8,200.5 L181.0,202.4 L181.2,201.7 L181.5,201.5 L181.8,203.9 L182.0,203.2 L182.2,201.9 L182.5,202.5 L182.8,203.3 L183.0,201.8 L183.2,201.8 L183.5,201.7 L183.8,201.2 L184.0,201.4 L184.2,200.6 L184.5,202.7 L184.8,200.9 L185.0,201.9 L185.2,203.9 L185.5,203.3 L185.8,201.9 L186.0,203.3 L186.2,203.0 L186.5,201.0 L186.8,200.6 L187.0,203.1 L187.2,200.1 L187.5,202.4 L187.8,202.9 L188.0,203.3 L188.2,201.6 L188.5,203.5 L188.8,201.2 L189.0,202.4 L189.2,202.6 L189.5,200.5 L189.8,201.3 L190.0,200.2 L190.2,201.1 L190.5,202.1 L190.8,201.9 L191.0,200.9 L191.2,201.5 L191.5,203.0 L191.8,202.4 L192.0,203.2 L192.2,202.6 L192.5,201.5 L192.8,201.4 L193.0,202.2 L193.2,201.2 L193.5,200.8 L193.8,201.8 L194.0,203.4 L194.2,203.7 L194.5,202.6 L194.8,200.5 L195.0,202.4 L195.2,200.6 L195.5,202.5 L195.8,201.3 L196.0,202.0 L196.2,201.5 L196.5,200.4 L196.8,201.3 L197.0,201.2 L197.2,202.9 L197.5,201.5 L197.8,204.1 L198.0,202.4 L198.2,201.7 L198.5,200.4 L198.8,203.4 L199.0,202.4 L199.2,201.0 L199.5,202.2 L199.8,200.9 L200.0,202.9 L200.2,201.7 L200.5,201.0 L200.8,203.1 L201.0,203.5 L201.2,200.2 L201.5,202.6 L201.8,203.6 L202.0,202.3 L202.2,202.3 L202.5,202.7 L202.8,201.3 L203.0,201.8 L203.2,201.2 L203.5,203.4 L203.8,202.2 L204.0,201.4 L204.2,201.2 L204.5,200.5 L204.8,202.5 L205.0,202.3 L205.2,201.5 L205.5,201.6 L205.8,203.9 L206.0,201.7 L206.2,203.7 L206.5,201.7 L206.8,202.7 L207.0,202.1 L207.2,202.5 L207.5,201.2 L207.8,202.0 L208.0,203.8 L208.2,201.2 L208.5,201.2 L208.8,200.7 L209.0,201.1 L209.2,201.8 L209.5,203.1 L209.8,201.7 L210.0,201.0 L210.2,202.2 L210.5,202.3 L210.8,200.7 L211.0,201.3 L211.2,203.1 L211.5,200.7 L211.8,201.9 L212.0,204.0 L212.2,203.0 L212.5,201.7 L212.8,202.4 L213.0,201.6 L213.2,202.3 L213.5,203.5 L213.8,202.4 L214.0,202.9 L214.2,201.8 L214.5,202.3 L214.8,202.3 L215.0,203.4 L215.2,201.1 L215.5,202.1 L215.8,202.4 L216.0,202.8 L216.2,201.3 L216.5,201.8 L216.8,205.3 L217.0,203.1 L217.2,201.1 L217.5,201.0 L217.8,199.1 L218.0,203.2 L218.2,203.0 L218.5,201.3 L218.8,202.9 L219.0,201.9 L219.2,201.1 L219.5,201.5 L219.8,200.6 L220.0,202.3 L220.2,200.4 L220.5,201.5 L220.8,202.5 L221.0,202.0 L221.2,204.0 L221.5,203.8 L221.8,200.7 L222.0,200.4 L222.2,201.7 L222.5,202.4 L222.8,202.2 L223.0,202.5 L223.2,203.9 L223.5,201.0 L223.8,202.5 L224.0,200.7 L224.2,202.7 L224.5,202.4 L224.8,201.8 L225.0,201.5 L225.2,202.9 L225.5,202.7 L225.8,201.6 L226.0,202.3 L226.2,202.1 L226.5,202.1 L226.8,204.3 L227.0,202.7 L227.2,203.5 L227.5,200.7 L227.8,204.0 L228.0,203.4 L228.2,201.4 L228.5,202.5 L228.8,201.8 L229.0,201.8 L229.2,201.9 L229.5,201.0 L229.8,202.1 L230.0,203.2 L230.2,202.7 L230.5,201.5 L230.8,201.3 L231.0,204.1 L231.2,204.1 L231.5,202.9 L231.8,201.4 L232.0,202.3 L232.2,200.3 L232.5,204.4 L232.8,202.8 L233.0,202.7 L233.2,202.1 L233.5,197.9 L233.8,198.4 L234.0,202.6 L234.2,202.0 L234.5,202.4 L234.8,203.0 L235.0,203.9 L235.2,202.8 L235.5,203.3 L235.8,202.0 L236.0,200.6 L236.2,201.6 L236.5,201.0 L236.8,203.7 L237.0,202.3 L237.2,203.2 L237.5,201.6 L237.8,200.7 L238.0,200.4 L238.2,202.2 L238.5,201.7 L238.8,199.6 L239.0,201.1 L239.2,200.5 L239.5,201.3 L239.8,202.6 L240.0,202.1 L240.2,203.2 L240.5,200.4 L240.8,200.4 L241.0,201.3 L241.2,198.6 L241.5,201.2 L241.8,202.2 L242.0,202.6 L242.2,201.7 L242.5,199.8 L242.8,202.1 L243.0,201.5 L243.2,201.5 L243.5,202.4 L243.8,202.7 L244.0,202.5 L244.2,200.8 L244.5,201.4 L244.8,203.1 L245.0,201.4 L245.2,201.7 L245.5,201.3 L245.8,203.5 L246.0,202.4 L246.2,202.0 L246.5,202.0 L246.8,201.6 L247.0,202.9 L247.2,202.9 L247.5,201.2 L247.8,201.2 L248.0,202.9 L248.2,201.8 L248.5,201.4 L248.8,202.7 L249.0,202.2 L249.2,202.6 L249.5,203.5 L249.8,199.6 L250.0,204.2 L250.2,204.7 L250.5,201.9 L250.8,200.7 L251.0,200.7 L251.2,202.3 L251.5,202.0 L251.8,202.9 L252.0,202.3 L252.2,201.9 L252.5,202.7 L252.8,204.0 L253.0,201.2 L253.2,203.1 L253.5,201.8 L253.8,203.3 L254.0,201.6 L254.2,202.2 L254.5,201.4 L254.8,202.4 L255.0,203.1 L255.2,202.8 L255.5,201.7 L255.8,203.0 L256.0,202.4 L256.2,203.1 L256.5,202.0 L256.8,203.0 L257.0,202.0 L257.2,202.7 L257.5,198.2 L257.8,204.0 L258.0,203.0 L258.2,201.4 L258.5,202.9 L258.8,202.6 L259.0,204.6 L259.2,201.7 L259.5,203.0 L259.8,203.2 L260.0,200.8 L260.2,202.1 L260.5,200.6 L260.8,201.7 L261.0,200.2 L261.2,203.8 L261.5,202.2 L261.8,203.4 L262.0,201.9 L262.2,203.1 L262.5,201.3 L262.8,200.7 L263.0,202.6 L263.2,201.3 L263.5,201.9 L263.8,202.9 L264.0,201.3 L264.2,202.0 L264.5,202.7 L264.8,204.0 L265.0,203.3 L265.2,203.5 L265.5,200.2 L265.8,202.3 L266.0,202.1 L266.2,200.1 L266.5,202.2 L266.8,203.3 L267.0,202.2 L267.2,201.5 L267.5,202.8 L267.8,203.6 L268.0,201.7 L268.2,201.5 L268.5,202.9 L268.8,204.0 L269.0,200.5 L269.2,200.0 L269.5,200.0 L269.8,202.4 L270.0,201.7 L270.2,202.7 L270.5,201.2 L270.8,201.6 L271.0,200.6 L271.2,201.7 L271.5,202.5 L271.8,201.6 L272.0,202.2 L272.2,201.5 L272.5,201.7 L272.8,203.1 L273.0,202.5 L273.2,202.2 L273.5,202.1 L273.8,201.0 L274.0,201.5 L274.2,201.5 L274.5,202.0 L274.8,203.4 L275.0,202.2 L275.2,203.1 L275.5,203.5 L275.8,202.8 L276.0,203.2 L276.2,198.8 L276.5,201.9 L276.8,202.0 L277.0,201.3 L277.2,203.9 L277.5,203.4 L277.8,201.3 L278.0,202.5 L278.2,200.1 L278.5,201.0 L278.8,202.2 L279.0,202.5 L279.2,201.4 L279.5,204.1 L279.8,200.3 L280.0,200.8 L280.2,202.2 L280.5,203.1 L280.8,201.5 L281.0,204.0 L281.2,202.2 L281.5,202.8 L281.8,203.0 L282.0,202.1 L282.2,201.3 L282.5,202.0 L282.8,203.5 L283.0,203.4 L283.2,202.5 L283.5,202.9 L283.8,201.8" stroke="#000" stroke-width="0.6" fill="none"/>
<g fill="#fff" stroke="#000" stroke-width="1.1">
<circle cx="162.3" cy="199.0" r="1.2"/>
<circle cx="162.5" cy="203.7" r="1.2"/>
<circle cx="162.8" cy="202.2" r="1.2"/>
<circle cx="163.0" cy="201.6" r="1.2"/>
<circle cx="163.2" cy="201.8" r="1.2"/>
<circle cx="163.5" cy="202.0" r="1.2"/>
<circle cx="163.8" cy="202.2" r="1.2"/>
<circle cx="164.0" cy="202.8" r="1.2"/>
<circle cx="164.2" cy="202.5" r="1.2"/>
<circle cx="164.5" cy="201.7" r="1.2"/>
<circle cx="164.8" cy="201.7" r="1.2"/>
<circle cx="165.0" cy="203.2" r="1.2"/>
<circle cx="165.2" cy="203.2" r="1.2"/>
<circle cx="165.5" cy="204.6" r="1.2"/>
<circle cx="165.8" cy="202.6" r="1.2"/>
<circle cx="166.0" cy="202.1" r="1.2"/>
<circle cx="166.2" cy="202.6" r="1.2"/>
<circle cx="166.5" cy="200.7" r="1.2"/>
<circle cx="166.8" cy="201.9" r="1.2"/>
<circle cx="167.0" cy="201.9" r="1.2"/>
<circle cx="167.2" cy="203.1" r="1.2"/>
<circle cx="167.5" cy="202.4" r="1.2"/>
<circle cx="167.8" cy="200.9" r="1.2"/>
<circle cx="168.0" cy="202.2" r="1.2"/>
<circle cx="168.2" cy="201.4" r="1.2"/>
<circle cx="168.5" cy="201.6" r="1.2"/>
<circle cx="168.8" cy="201.1" r="1.2"/>
<circle cx="169.0" cy="202.7" r="1.2"/>
<circle cx="169.2" cy="202.4" r="1.2"/>
<circle cx="169.5" cy="203.7" r="1.2"/>
<circle cx="169.8" cy="201.6" r="1.2"/>
<circle cx="170.0" cy="200.4" r="1.2"/>
<circle cx="170.2" cy="201.4" r="1.2"/>
<circle cx="170.5" cy="202.4" r="1.2"/>
<circle cx="170.8" cy="200.7" r="1.2"/>
<circle cx="171.0" cy="203.0" r="1.2"/>
<circle cx="171.2" cy="202.2" r="1.2"/>
<circle cx="171.5" cy="203.2" r="1.2"/>
<circle cx="171.8" cy="201.0" r="1.2"/>
<circle cx="172.0" cy="203.0" r="1.2"/>
<circle cx="172.2" cy="201.3" r="1.2"/>
<circle cx="172.5" cy="200.8" r="1.2"/>
<circle cx="172.8" cy="202.5" r="1.2"/>
<circle cx="173.0" cy="202.2" r="1.2"/>
<circle cx="173.2" cy="202.6" r="1.2"/>
<circle cx="173.5" cy="200.0" r="1.2"/>
<circle cx="173.8" cy="201.1" r="1.2"/>
<circle cx="174.0" cy="201.7" r="1.2"/>
<circle cx="174.2" cy="201.1" r="1.2"/>
<circle cx="174.5" cy="200.8" r="1.2"/>
<circle cx="174.8" cy="202.8" r="1.2"/>
<circle cx="175.0" cy="202.0" r="1.2"/>
<circle cx="175.2" cy="202.2" r="1.2"/>
<circle cx="175.5" cy="201.7" r="1.2"/>
<circle cx="175.8" cy="202.9" r="1.2"/>
<circle cx="176.0" cy="205.0" r="1.2"/>
<circle cx="176.2" cy="203.4" r="1.2"/>
<circle cx="176.5" cy="201.5" r="1.2"/>
<circle cx="176.8" cy="202.8" r="1.2"/>
<circle cx="177.0" cy="202.7" r="1.2"/>
<circle cx="177.2" cy="205.2" r="1.2"/>
<circle cx="177.5" cy="201.7" r="1.2"/>
<circle cx="177.8" cy="203.3" r="1.2"/>
<circle cx="178.0" cy="204.1" r="1.2"/>
<circle cx="178.2" cy="202.7" r="1.2"/>
<circle cx="178.5" cy="203.5" r="1.2"/>
<circle cx="178.8" cy="203.1" r="1.2"/>
<circle cx="179.0" cy="203.3" r="1.2"/>
<circle cx="179.2" cy="199.5" r="1.2"/>
<circle cx="179.5" cy="203.8" r="1.2"/>
<circle cx="179.8" cy="202.4" r="1.2"/>
<circle cx="180.0" cy="201.1" r="1.2"/>
<circle cx="180.2" cy="201.8" r="1.2"/>
<circle cx="180.5" cy="200.8" r="1.2"/>
<circle cx="180.8" cy="200.5" r="1.2"/>
<circle cx="181.0" cy="202.4" r="1.2"/>
<circle cx="181.2" cy="201.7" r="1.2"/>
<circle cx="181.5" cy="201.5" r="1.2"/>
<circle cx="181.8" cy="203.9" r="1.2"/>
<circle cx="182.0" cy="203.2" r="1.2"/>
<circle cx="182.2" cy="201.9" r="1.2"/>
<circle cx="182.5" cy="202.5" r="1.2"/>
<circle cx="182.8" cy="203.3" r="1.2"/>
<circle cx="183.0" cy="201.8" r="1.2"/>
<circle cx="183.2" cy="201.8" r="1.2"/>
<circle cx="183.5" cy="201.7" r="1.2"/>
<circle cx="183.8" cy="201.2" r="1.2"/>
<circle cx="184.0" cy="201.4" r="1.2"/>
<circle cx="184.2" cy="200.6" r="1.2"/>
<circle cx="184.5" cy="202.7" r="1.2"/>
<circle cx="184.8" cy="200.9" r="1.2"/>
<circle cx="185.0" cy="201.9" r="1.2"/>
<circle cx="185.2" cy="203.9" r="1.2"/>
<circle cx="185.5" cy="203.3" r="1.2"/>
<circle cx="185.8" cy="201.9" r="1.2"/>
<circle cx="186.0" cy="203.3" r="1.2"/>
<circle cx="186.2" cy="203.0" r="1.2"/>
<circle cx="186.5" cy="201.0" r="1.2"/>
<circle cx="186.8" cy="200.6" r="1.2"/>
<circle cx="187.0" cy="203.1" r="1.2"/>
<circle cx="187.2" cy="200.1" r="1.2"/>
<circle cx="187.5" cy="202.4" r="1.2"/>
<circle cx="187.8" cy="202.9" r="1.2"/>
<circle cx="188.0" cy="203.3" r="1.2"/>
<circle cx="188.2" cy="201.6" r="1.2"/>
<circle cx="188.5" cy="203.5" r="1.2"/>
<circle cx="188.8" cy="201.2" r="1.2"/>
<circle cx="189.0" cy="202.4" r="1.2"/>
<circle cx="189.2" cy="202.6" r="1.2"/>
<circle cx="189.5" cy="200.5" r="1.2"/>
<circle cx="189.8" cy="201.3" r="1.2"/>
<circle cx="190.0" cy="200.2" r="1.2"/>
<circle cx="190.2" cy="201.1" r="1.2"/>
<circle cx="190.5" cy="202.1" r="1.2"/>
<circle cx="190.8" cy="201.9" r="1.2"/>
<circle cx="191.0" cy="200.9" r="1.2"/>
<circle cx="191.2" cy="201.5" r="1.2"/>
<circle cx="191.5" cy="203.0" r="1.2"/>
<circle cx="191.8" cy="202.4" r="1.2"/>
<circle cx="192.0" cy="203.2" r="1.2"/>
<circle cx="192.2" cy="202.6" r="1.2"/>
<circle cx="192.5" cy="201.5" r="1.2"/>
<circle cx="192.8" cy="201.4" r="1.2"/>
<circle cx="193.0" cy="202.2" r="1.2"/>
<circle cx="193.2" cy="201.2" r="1.2"/>
<circle cx="193.5" cy="200.8" r="1.2"/>
<circle cx="193.8" cy="201.8" r="1.2"/>
<circle cx="194.0" cy="203.4" r="1.2"/>
<circle cx="194.2" cy="203.7" r="1.2"/>
<circle cx="194.5" cy="202.6" r="1.2"/>
<circle cx="194.8" cy="200.5" r="1.2"/>
<circle cx="195.0" cy="202.4" r="1.2"/>
<circle cx="195.2" cy="200.6" r="1.2"/>
<circle cx="195.5" cy="202.5" r="1.2"/>
<circle cx="195.8" cy="201.3" r="1.2"/>
<circle cx="196.0" cy="202.0" r="1.2"/>
<circle cx="196.2" cy="201.5" r="1.2"/>
<circle cx="196.5" cy="200.4" r="1.2"/>
<circle cx="196.8" cy="201.3" r="1.2"/>
<circle cx="197.0" cy="201.2" r="1.2"/>
<circle cx="197.2" cy="202.9" r="1.2"/>
<circle cx="197.5" cy="201.5" r="1.2"/>
<circle cx="197.8" cy="204.1" r="1.2"/>
<circle cx="198.0" cy="202.4" r="1.2"/>
<circle cx="198.2" cy="201.7" r="1.2"/>
<circle cx="198.5" cy="200.4" r="1.2"/>
<circle cx="198.8" cy="203.4" r="1.2"/>
<circle cx="199.0" cy="202.4" r="1.2"/>
<circle cx="199.2" cy="201.0" r="1.2"/>
<circle cx="199.5" cy="202.2" r="1.2"/>
<circle cx="199.8" cy="200.9" r="1.2"/>
<circle cx="200.0" cy="202.9" r="1.2"/>
<circle cx="200.2" cy="201.7" r="1.2"/>
<circle cx="200.5" cy="201.0" r="1.2"/>
<circle cx="200.8" cy="203.1" r="1.2"/>
<circle cx="201.0" cy="203.5" r="1.2"/>
<circle cx="201.2" cy="200.2" r="1.2"/>
<circle cx="201.5" cy="202.6" r="1.2"/>
<circle cx="201.8" cy="203.6" r="1.2"/>
<circle cx="202.0" cy="202.3" r="1.2"/>
<circle cx="202.2" cy="202.3" r="1.2"/>
<circle cx="202.5" cy="202.7" r="1.2"/>
<circle cx="202.8" cy="201.3" r="1.2"/>
<circle cx="203.0" cy="201.8" r="1.2"/>
<circle cx="203.2" cy="201.2" r="1.2"/>
<circle cx="203.5" cy="203.4" r="1.2"/>
<circle cx="203.8" cy="202.2" r="1.2"/>
<circle cx="204.0" cy="201.4" r="1.2"/>
<circle cx="204.2" cy="201.2" r="1.2"/>
<circle cx="204.5" cy="200.5" r="1.2"/>
<circle cx="204.8" cy="202.5" r="1.2"/>
<circle cx="205.0" cy="202.3" r="1.2"/>
<circle cx="205.2" cy="201.5" r="1.2"/>
<circle cx="205.5" cy="201.6" r="1.2"/>
<circle cx="205.8" cy="203.9" r="1.2"/>
<circle cx="206.0" cy="201.7" r="1.2"/>
<circle cx="206.2" cy="203.7" r="1.2"/>
<circle cx="206.5" cy="201.7" r="1.2"/>
<circle cx="206.8" cy="202.7" r="1.2"/>
<circle cx="207.0" cy="202.1" r="1.2"/>
<circle cx="207.2" cy="202.5" r="1.2"/>
<circle cx="207.5" cy="201.2" r="1.2"/>
<circle cx="207.8" cy="202.0" r="1.2"/>
<circle cx="208.0" cy="203.8" r="1.2"/>
<circle cx="208.2" cy="201.2" r="1.2"/>
<circle cx="208.5" cy="201.2" r="1.2"/>
<circle cx="208.8" cy="200.7" r="1.2"/>
<circle cx="209.0" cy="201.1" r="1.2"/>
<circle cx="209.2" cy="201.8" r="1.2"/>
<circle cx="209.5" cy="203.1" r="1.2"/>
<circle cx="209.8" cy="201.7" r="1.2"/>
<circle cx="210.0" cy="201.0" r="1.2"/>
<circle cx="210.2" cy="202.2" r="1.2"/>
<circle cx="210.5" cy="202.3" r="1.2"/>
<circle cx="210.8" cy="200.7" r="1.2"/>
<circle cx="211.0" cy="201.3" r="1.2"/>
<circle cx="211.2" cy="203.1" r="1.2"/>
<circle cx="211.5" cy="200.7" r="1.2"/>
<circle cx="211.8" cy="201.9" r="1.2"/>
<circle cx="212.0" cy="204.0" r="1.2"/>
<circle cx="212.2" cy="203.0" r="1.2"/>
<circle cx="212.5" cy="201.7" r="1.2"/>
<circle cx="212.8" cy="202.4" r="1.2"/>
<circle cx="213.0" cy="201.6" r="1.2"/>
<circle cx="213.2" cy="202.3" r="1.2"/>
<circle cx="213.5" cy="203.5" r="1.2"/>
<circle cx="213.8" cy="202.4" r="1.2"/>
<circle cx="214.0" cy="202.9" r="1.2"/>
<circle cx="214.2" cy="201.8" r="1.2"/>
<circle cx="214.5" cy="202.3" r="1.2"/>
<circle cx="214.8" cy="202.3" r="1.2"/>
<circle cx="215.0" cy="203.4" r="1.2"/>
<circle cx="215.2" cy="201.1" r="1.2"/>
<circle cx="215.5" cy="202.1" r="1.2"/>
<circle cx="215.8" cy="202.4" r="1.2"/>
<circle cx="216.0" cy="202.8" r="1.2"/>
<circle cx="216.2" cy="201.3" r="1.2"/>
<circle cx="216.5" cy="201.8" r="1.2"/>
<circle cx="216.8" cy="205.3" r="1.2"/>
<circle cx="217.0" cy="203.1" r="1.2"/>
<circle cx="217.2" cy="201.1" r="1.2"/>
<circle cx="217.5" cy="201.0" r="1.2"/>
<circle cx="217.8" cy="199.1" r="1.2"/>
<circle cx="218.0" cy="203.2" r="1.2"/>
<circle cx="218.2" cy="203.0" r="1.2"/>
<circle cx="218.5" cy="201.3" r="1.2"/>
<circle cx="218.8" cy="202.9" r="1.2"/>
<circle cx="219.0" cy="201.9" r="1.2"/>
<circle cx="219.2" cy="201.1" r="1.2"/>
<circle cx="219.5" cy="201.5" r="1.2"/>
<circle cx="219.8" cy="200.6" r="1.2"/>
<circle cx="220.0" cy="202.3" r="1.2"/>
<circle cx="220.2" cy="200.4" r="1.2"/>
<circle cx="220.5" cy="201.5" r="1.2"/>
<circle cx="220.8" cy="202.5" r="1.2"/>
<circle cx="221.0" cy="202.0" r="1.2"/>
<circle cx="221.2" cy="204.0" r="1.2"/>
<circle cx="221.5" cy="203.8" r="1.2"/>
<circle cx="221.8" cy="200.7" r="1.2"/>
<circle cx="222.0" cy="200.4" r="1.2"/>
<circle cx="222.2" cy="201.7" r="1.2"/>
<circle cx="222.5" cy="202.4" r="1.2"/>
<circle cx="222.8" cy="202.2" r="1.2"/>
<circle cx="223.0" cy="202.5" r="1.2"/>
<circle cx="223.2" cy="203.9" r="1.2"/>
<circle cx="223.5" cy="201.0" r="1.2"/>
<circle cx="223.8" cy="202.5" r="1.2"/>
<circle cx="224.0" cy="200.7" r="1.2"/>
<circle cx="224.2" cy="202.7" r="1.2"/>
<circle cx="224.5" cy="202.4" r="1.2"/>
<circle cx="224.8" cy="201.8" r="1.2"/>
<circle cx="225.0" cy="201.5" r="1.2"/>
<circle cx="225.2" cy="202.9" r="1.2"/>
<circle cx="225.5" cy="202.7" r="1.2"/>
<circle cx="225.8" cy="201.6" r="1.2"/>
<circle cx="226.0" cy="202.3" r="1.2"/>
<circle cx="226.2" cy="202.1" r="1.2"/>
<circle cx="226.5" cy="202.1" r="1.2"/>
<circle cx="226.8" cy="204.3" r="1.2"/>
<circle cx="227.0" cy="202.7" r="1.2"/>
<circle cx="227.2" cy="203.5" r="1.2"/>
<circle cx="227.5" cy="200.7" r="1.2"/>
<circle cx="227.8" cy="204.0" r="1.2"/>
<circle cx="228.0" cy="203.4" r="1.2"/>
<circle cx="228.2" cy="201.4" r="1.2"/>
<circle cx="228.5" cy="202.5" r="1.2"/>
<circle cx="228.8" cy="201.8" r="1.2"/>
<circle cx="229.0" cy="201.8" r="1.2"/>
<circle cx="229.2" cy="201.9" r="1.2"/>
<circle cx="229.5" cy="201.0" r="1.2"/>
<circle cx="229.8" cy="202.1" r="1.2"/>
<circle cx="230.0" cy="203.2" r="1.2"/>
<circle cx="230.2" cy="202.7" r="1.2"/>
<circle cx="230.5" cy="201.5" r="1.2"/>
<circle cx="230.8" cy="201.3" r="1.2"/>
<circle cx="231.0" cy="204.1" r="1.2"/>
<circle cx="231.2" cy="204.1" r="1.2"/>
<circle cx="231.5" cy="202.9" r="1.2"/>
<circle cx="231.8" cy="201.4" r="1.2"/>
<circle cx="232.0" cy="202.3" r="1.2"/>
<circle cx="232.2" cy="200.3" r="1.2"/>
<circle cx="232.5" cy="204.4" r="1.2"/>
<circle cx="232.8" cy="202.8" r="1.2"/>
<circle cx="233.0" cy="202.7" r="1.2"/>
<circle cx="233.2" cy="202.1" r="1.2"/>
<circle cx="233.5" cy="197.9" r="1.2"/>
<circle cx="233.8" cy="198.4" r="1.2"/>
<circle cx="234.0" cy="202.6" r="1.2"/>
<circle cx="234.2" cy="202.0" r="1.2"/>
<circle cx="234.5" cy="202.4" r="1.2"/>
<circle cx="234.8" cy="203.0" r="1.2"/>
<circle cx="235.0" cy="203.9" r="1.2"/>
<circle cx="235.2" cy="202.8" r="1.2"/>
<circle cx="235.5" cy="203.3" r="1.2"/>
<circle cx="235.8" cy="202.0" r="1.2"/>
<circle cx="236.0" cy="200.6" r="1.2"/>
<circle cx="236.2" cy="201.6" r="1.2"/>
<circle cx="236.5" cy="201.0" r="1.2"/>
<circle cx="236.8" cy="203.7" r="1.2"/>
<circle cx="237.0" cy="202.3" r="1.2"/>
<circle cx="237.2" cy="203.2" r="1.2"/>
<circle cx="237.5" cy="201.6" r="1.2"/>
<circle cx="237.8" cy="200.7" r="1.2"/>
<circle cx="238.0" cy="200.4" r="1.2"/>
<circle cx="238.2" cy="202.2" r="1.2"/>
<circle cx="238.5" cy="201.7" r="1.2"/>
<circle cx="238.8" cy="199.6" r="1.2"/>
<circle cx="239.0" cy="201.1" r="1.2"/>
<circle cx="239.2" cy="200.5" r="1.2"/>
<circle cx="239.5" cy="201.3" r="1.2"/>
<circle cx="239.8" cy="202.6" r="1.2"/>
<circle cx="240.0" cy="202.1" r="1.2"/>
<circle cx="240.2" cy="203.2" r="1.2"/>
<circle cx="240.5" cy="200.4" r="1.2"/>
<circle cx="240.8" cy="200.4" r="1.2"/>
<circle cx="241.0" cy="201.3" r="1.2"/>
<circle cx="241.2" cy="198.6" r="1.2"/>
<circle cx="241.5" cy="201.2" r="1.2"/>
<circle cx="241.8" cy="202.2" r="1.2"/>
<circle cx="242.0" cy="202.6" r="1.2"/>
<circle cx="242.2" cy="201.7" r="1.2"/>
<circle cx="242.5" cy="199.8" r="1.2"/>
<circle cx="242.8" cy="202.1" r="1.2"/>
<circle cx="243.0" cy="201.5" r="1.2"/>
<circle cx="243.2" cy="201.5" r="1.2"/>
<circle cx="243.5" cy="202.4" r="1.2"/>
<circle cx="243.8" cy="202.7" r="1.2"/>
<circle cx="244.0" cy="202.5" r="1.2"/>
<circle cx="244.2" cy="200.8" r="1.2"/>
<circle cx="244.5" cy="201.4" r="1.2"/>
<circle cx="244.8" cy="203.1" r="1.2"/>
<circle cx="245.0" cy="201.4" r="1.2"/>
<circle cx="245.2" cy="201.7" r="1.2"/>
<circle cx="245.5" cy="201.3" r="1.2"/>
<circle cx="245.8" cy="203.5" r="1.2"/>
<circle cx="246.0" cy="202.4" r="1.2"/>
<circle cx="246.2" cy="202.0" r="1.2"/>
<circle cx="246.5" cy="202.0" r="1.2"/>
<circle cx="246.8" cy="201.6" r="1.2"/>
<circle cx="247.0" cy="202.9" r="1.2"/>
<circle cx="247.2" cy="202.9" r="1.2"/>
<circle cx="247.5" cy="201.2" r="1.2"/>
<circle cx="247.8" cy="201.2" r="1.2"/>
<circle cx="248.0" cy="202.9" r="1.2"/>
<circle cx="248.2" cy="201.8" r="1.2"/>
<circle cx="248.5" cy="201.4" r="1.2"/>
<circle cx="248.8" cy="202.7" r="1.2"/>
<circle cx="249.0" cy="202.2" r="1.2"/>
<circle cx="249.2" cy="202.6" r="1.2"/>
<circle cx="249.5" cy="203.5" r="1.2"/>
<circle cx="249.8" cy="199.6" r="1.2"/>
<circle cx="250.0" cy="204.2" r="1.2"/>
<circle cx="250.2" cy="204.7" r="1.2"/>
<circle cx="250.5" cy="201.9" r="1.2"/>
<circle cx="250.8" cy="200.7" r="1.2"/>
<circle cx="251.0" cy="200.7" r="1.2"/>
<circle cx="251.2" cy="202.3" r="1.2"/>
<circle cx="251.5" cy="202.0" r="1.2"/>
<circle cx="251.8" cy="202.9" r="1.2"/>
<circle cx="252.0" cy="202.3" r="1.2"/>
<circle cx="252.2" cy="201.9" r="1.2"/>
<circle cx="252.5" cy="202.7" r="1.2"/>
<circle cx="252.8" cy="204.0" r="1.2"/>
<circle cx="253.0" cy="201.2" r="1.2"/>
<circle cx="253.2" cy="203.1" r="1.2"/>
<circle cx="253.5" cy="201.8" r="1.2"/>
<circle cx="253.8" cy="203.3" r="1.2"/>
<circle cx="254.0" cy="201.6" r="1.2"/>
<circle cx="254.2" cy="202.2" r="1.2"/>
<circle cx="254.5" cy="201.4" r="1.2"/>
<circle cx="254.8" cy="202.4" r="1.2"/>
<circle cx="255.0" cy="203.1" r="1.2"/>
<circle cx="255.2" cy="202.8" r="1.2"/>
<circle cx="255.5" cy="201.7" r="1.2"/>
<circle cx="255.8" cy="203.0" r="1.2"/>
<circle cx="256.0" cy="202.4" r="1.2"/>
<circle cx="256.2" cy="203.1" r="1.2"/>
<circle cx="256.5" cy="202.0" r="1.2"/>
<circle cx="256.8" cy="203.0" r="1.2"/>
<circle cx="257.0" cy="202.0" r="1.2"/>
<circle cx="257.2" cy="202.7" r="1.2"/>
<circle cx="257.5" cy="198.2" r="1.2"/>
<circle cx="257.8" cy="204.0" r="1.2"/>
<circle cx="258.0" cy="203.0" r="1.2"/>
<circle cx="258.2" cy="201.4" r="1.2"/>
<circle cx="258.5" cy="202.9" r="1.2"/>
<circle cx="258.8" cy="202.6" r="1.2"/>
<circle cx="259.0" cy="204.6" r="1.2"/>
<circle cx="259.2" cy="201.7" r="1.2"/>
<circle cx="259.5" cy="203.0" r="1.2"/>
<circle cx="259.8" cy="203.2" r="1.2"/>
<circle cx="260.0" cy="200.8" r="1.2"/>
<circle cx="260.2" cy="202.1" r="1.2"/>
<circle cx="260.5" cy="200.6" r="1.2"/>
<circle cx="260.8" cy="201.7" r="1.2"/>
<circle cx="261.0" cy="200.2" r="1.2"/>
<circle cx="261.2" cy="203.8" r="1.2"/>
<circle cx="261.5" cy="202.2" r="1.2"/>
<circle cx="261.8" cy="203.4" r="1.2"/>
<circle cx="262.0" cy="201.9" r="1.2"/>
<circle cx="262.2" cy="203.1" r="1.2"/>
<circle cx="262.5" cy="201.3" r="1.2"/>
<circle cx="262.8" cy="200.7" r="1.2"/>
<circle cx="263.0" cy="202.6" r="1.2"/>
<circle cx="263.2" cy="201.3" r="1.2"/>
<circle cx="263.5" cy="201.9" r="1.2"/>
<circle cx="263.8" cy="202.9" r="1.2"/>
<circle cx="264.0" cy="201.3" r="1.2"/>
<circle cx="264.2" cy="202.0" r="1.2"/>
<circle cx="264.5" cy="202.7" r="1.2"/>
<circle cx="264.8" cy="204.0" r="1.2"/>
<circle cx="265.0" cy="203.3" r="1.2"/>
<circle cx="265.2" cy="203.5" r="1.2"/>
<circle cx="265.5" cy="200.2" r="1.2"/>
<circle cx="265.8" cy="202.3" r="1.2"/>
<circle cx="266.0" cy="202.1" r="1.2"/>
<circle cx="266.2" cy="200.1" r="1.2"/>
<circle cx="266.5" cy="202.2" r="1.2"/>
<circle cx="266.8" cy="203.3" r="1.2"/>
<circle cx="267.0" cy="202.2" r="1.2"/>
<circle cx="267.2" cy="201.5" r="1.2"/>
<circle cx="267.5" cy="202.8" r="1.2"/>
<circle cx="267.8" cy="203.6" r="1.2"/>
<circle cx="268.0" cy="201.7" r="1.2"/>
<circle cx="268.2" cy="201.5" r="1.2"/>
<circle cx="268.5" cy="202.9" r="1.2"/>
<circle cx="268.8" cy="204.0" r="1.2"/>
<circle cx="269.0" cy="200.5" r="1.2"/>
<circle cx="269.2" cy="200.0" r="1.2"/>
<circle cx="269.5" cy="200.0" r="1.2"/>
<circle cx="269.8" cy="202.4" r="1.2"/>
<circle cx="270.0" cy="201.7" r="1.2"/>
<circle cx="270.2" cy="202.7" r="1.2"/>
<circle cx="270.5" cy="201.2" r="1.2"/>
<circle cx="270.8" cy="201.6" r="1.2"/>
<circle cx="271.0" cy="200.6" r="1.2"/>
<circle cx="271.2" cy="201.7" r="1.2"/>
<circle cx="271.5" cy="202.5" r="1.2"/>
<circle cx="271.8" cy="201.6" r="1.2"/>
<circle cx="272.0" cy="202.2" r="1.2"/>
<circle cx="272.2" cy="201.5" r="1.2"/>
<circle cx="272.5" cy="201.7" r="1.2"/>
<circle cx="272.8" cy="203.1" r="1.2"/>
<circle cx="273.0" cy="202.5" r="1.2"/>
<circle cx="273.2" cy="202.2" r="1.2"/>
<circle cx="273.5" cy="202.1" r="1.2"/>
<circle cx="273.8" cy="201.0" r="1.2"/>
<circle cx="274.0" cy="201.5" r="1.2"/>
<circle cx="274.2" cy="201.5" r="1.2"/>
<circle cx="274.5" cy="202.0" r="1.2"/>
<circle cx="274.8" cy="203.4" r="1.2"/>
<circle cx="275.0" cy="202.2" r="1.2"/>
<circle cx="275.2" cy="203.1" r="1.2"/>
<circle cx="275.5" cy="203.5" r="1.2"/>
<circle cx="275.8" cy="202.8" r="1.2"/>
<circle cx="276.0" cy="203.2" r="1.2"/>
<circle cx="276.2" cy="198.8" r="1.2"/>
<circle cx="276.5" cy="201.9" r="1.2"/>
<circle cx="276.8" cy="202.0" r="1.2"/>
<circle cx="277.0" cy="201.3" r="1.2"/>
<circle cx="277.2" cy="203.9" r="1.2"/>
<circle cx="277.5" cy="203.4" r="1.2"/>
<circle cx="277.8" cy="201.3" r="1.2"/>
<circle cx="278.0" cy="202.5" r="1.2"/>
<circle cx="278.2" cy="200.1" r="1.2"/>
<circle cx="278.5" cy="201.0" r="1.2"/>
<circle cx="278.8" cy="202.2" r="1.2"/>
<circle cx="279.0" cy="202.5" r="1.2"/>
<circle cx="279.2" cy="201.4" r="1.2"/>
<circle cx="279.5" cy="204.1" r="1.2"/>
<circle cx="279.8" cy="200.3" r="1.2"/>
<circle cx="280.0" cy="200.8" r="1.2"/>
<circle cx="280.2" cy="202.2" r="1.2"/>
<circle cx="280.5" cy="203.1" r="1.2"/>
<circle cx="280.8" cy="201.5" r="1.2"/>
<circle cx="281.0" cy="204.0" r="1.2"/>
<circle cx="281.2" cy="202.2" r="1.2"/>
<circle cx="281.5" cy="202.8" r="1.2"/>
<circle cx="281.8" cy="203.0" r="1.2"/>
<circle cx="282.0" cy="202.1" r="1.2"/>
<circle cx="282.2" cy="201.3" r="1.2"/>
<circle cx="282.5" cy="202.0" r="1.2"/>
<circle cx="282.8" cy="203.5" r="1.2"/>
<circle cx="283.0" cy="203.4" r="1.2"/>
<circle cx="283.2" cy="202.5" r="1.2"/>
<circle cx="283.5" cy="202.9" r="1.2"/>
<circle cx="283.8" cy="201.8" r="1.2"/>
</g>
<path d="M34.5,40 L54,59.7 L55.5,59.3 L57,60.6 L94,95.3 L131,130.3 L160,158.4 L161.5,158.9 L163.5,158.2 L165,159.5 L194,184.3 L195.5,184.2 L197,185.8 L203,189.6 L204.5,189.6 L207,191.6 L212,193.6 L217,194.6 L222,193.4 L284,193.3" stroke="#0a0a0a" stroke-width="3.4" fill="none" stroke-linejoin="round"/>
<text x="45.2" y="25.2" font-size="10" text-anchor="middle" font-weight="bold" stroke="#111" stroke-width="0.35" >0</text>
<path d="M43.7,29.5 L43.7,38.9" stroke="#111" stroke-width="1.7" fill="none"/>
<path d="M40.800000000000004,37.9 L46.6,37.9 L43.7,45.4 Z" fill="#111"/>
<text x="60.3" y="35.0" font-size="10" text-anchor="middle" font-weight="bold" stroke="#111" stroke-width="0.35" >1</text>
<path d="M58.7,38 L58.7,48.3" stroke="#111" stroke-width="1.7" fill="none"/>
<path d="M55.800000000000004,47.3 L61.6,47.3 L58.7,54.8 Z" fill="#111"/>
<text x="167.8" y="135.8" font-size="10" text-anchor="middle" font-weight="bold" stroke="#111" stroke-width="0.35" >2</text>
<path d="M167,138.5 L167,147.0" stroke="#111" stroke-width="1.7" fill="none"/>
<path d="M164.1,146.0 L169.9,146.0 L167,153.5 Z" fill="#111"/>
<text x="196.8" y="160.2" font-size="10" text-anchor="middle" font-weight="bold" stroke="#111" stroke-width="0.35" >3</text>
<path d="M196.4,163 L196.4,172.3" stroke="#111" stroke-width="1.7" fill="none"/>
<path d="M193.5,171.3 L199.3,171.3 L196.4,178.8 Z" fill="#111"/>
<text x="207.4" y="171.8" font-size="10" text-anchor="middle" font-weight="bold" stroke="#111" stroke-width="0.35" >4</text>
<path d="M206.6,174 L206.6,182.3" stroke="#111" stroke-width="1.7" fill="none"/>
<path d="M203.7,181.3 L209.5,181.3 L206.6,188.8 Z" fill="#111"/>
<rect x="161.5" y="11.5" width="112.0" height="91.5" fill="#fff" stroke="#3a3a3a" stroke-width="1"/>
<line x1="161.50" y1="93.00" x2="164.00" y2="93.00" stroke="#1a1a1a" stroke-width="0.8"/>
<line x1="273.50" y1="93.00" x2="271.00" y2="93.00" stroke="#1a1a1a" stroke-width="0.8"/>
<line x1="161.50" y1="83.12" x2="163.10" y2="83.12" stroke="#1a1a1a" stroke-width="0.8"/>
<line x1="273.50" y1="83.12" x2="271.90" y2="83.12" stroke="#1a1a1a" stroke-width="0.8"/>
<line x1="161.50" y1="73.25" x2="164.00" y2="73.25" stroke="#1a1a1a" stroke-width="0.8"/>
<line x1="273.50" y1="73.25" x2="271.00" y2="73.25" stroke="#1a1a1a" stroke-width="0.8"/>
<line x1="161.50" y1="63.38" x2="163.10" y2="63.38" stroke="#1a1a1a" stroke-width="0.8"/>
<line x1="273.50" y1="63.38" x2="271.90" y2="63.38" stroke="#1a1a1a" stroke-width="0.8"/>
<line x1="161.50" y1="53.50" x2="164.00" y2="53.50" stroke="#1a1a1a" stroke-width="0.8"/>
<line x1="273.50" y1="53.50" x2="271.00" y2="53.50" stroke="#1a1a1a" stroke-width="0.8"/>
<line x1="161.50" y1="43.62" x2="163.10" y2="43.62" stroke="#1a1a1a" stroke-width="0.8"/>
<line x1="273.50" y1="43.62" x2="271.90" y2="43.62" stroke="#1a1a1a" stroke-width="0.8"/>
<line x1="161.50" y1="33.75" x2="164.00" y2="33.75" stroke="#1a1a1a" stroke-width="0.8"/>
<line x1="273.50" y1="33.75" x2="271.00" y2="33.75" stroke="#1a1a1a" stroke-width="0.8"/>
<line x1="161.50" y1="23.88" x2="163.10" y2="23.88" stroke="#1a1a1a" stroke-width="0.8"/>
<line x1="273.50" y1="23.88" x2="271.90" y2="23.88" stroke="#1a1a1a" stroke-width="0.8"/>
<line x1="161.50" y1="14.00" x2="164.00" y2="14.00" stroke="#1a1a1a" stroke-width="0.8"/>
<line x1="273.50" y1="14.00" x2="271.00" y2="14.00" stroke="#1a1a1a" stroke-width="0.8"/>
<line x1="180.20" y1="103.00" x2="180.20" y2="100.50" stroke="#1a1a1a" stroke-width="0.8"/>
<line x1="198.88" y1="103.00" x2="198.88" y2="100.50" stroke="#1a1a1a" stroke-width="0.8"/>
<line x1="217.56" y1="103.00" x2="217.56" y2="100.50" stroke="#1a1a1a" stroke-width="0.8"/>
<line x1="236.24" y1="103.00" x2="236.24" y2="100.50" stroke="#1a1a1a" stroke-width="0.8"/>
<line x1="254.92" y1="103.00" x2="254.92" y2="100.50" stroke="#1a1a1a" stroke-width="0.8"/>
<text x="160.2" y="96.8" font-size="10.5" text-anchor="end" font-weight="bold" stroke="#111" stroke-width="0.35" >0</text>
<text x="160.2" y="77.0" font-size="10.5" text-anchor="end" font-weight="bold" stroke="#111" stroke-width="0.35" >2</text>
<text x="160.2" y="57.3" font-size="10.5" text-anchor="end" font-weight="bold" stroke="#111" stroke-width="0.35" >4</text>
<text x="160.2" y="37.5" font-size="10.5" text-anchor="end" font-weight="bold" stroke="#111" stroke-width="0.35" >6</text>
<text x="160.2" y="17.8" font-size="10.5" text-anchor="end" font-weight="bold" stroke="#111" stroke-width="0.35" >8</text>
<text x="162.7" y="114.2" font-size="10.5" text-anchor="middle" font-weight="bold" stroke="#111" stroke-width="0.35" >-1</text>
<text x="180.2" y="114.2" font-size="10.5" text-anchor="middle" font-weight="bold" stroke="#111" stroke-width="0.35" >0</text>
<text x="198.9" y="114.2" font-size="10.5" text-anchor="middle" font-weight="bold" stroke="#111" stroke-width="0.35" >1</text>
<text x="217.6" y="114.2" font-size="10.5" text-anchor="middle" font-weight="bold" stroke="#111" stroke-width="0.35" >2</text>
<text x="236.2" y="114.2" font-size="10.5" text-anchor="middle" font-weight="bold" stroke="#111" stroke-width="0.35" >3</text>
<text x="254.9" y="114.2" font-size="10.5" text-anchor="middle" font-weight="bold" stroke="#111" stroke-width="0.35" >4</text>
<text x="273.6" y="114.2" font-size="10.5" text-anchor="middle" font-weight="bold" stroke="#111" stroke-width="0.35" >5</text>
<text x="147" y="63.5" font-size="11" text-anchor="middle" font-weight="bold" stroke="#111" stroke-width="0.35" textLength="55" lengthAdjust="spacingAndGlyphs" transform="rotate(-90 147 63.5)" >Force (nN)</text>
<text x="146.1" y="125.6" font-size="11" text-anchor="start" font-weight="bold" stroke="#111" stroke-width="0.35" textLength="132" lengthAdjust="spacingAndGlyphs" >Tip-Sample Distance (nm)</text>
<path d="M183,12.6 Q180.6,12.8 180.6,19" stroke="#0a0a0a" stroke-width="2.6" fill="none" stroke-linecap="round"/>
<path d="M187.3,17.5 L187.1,42 Q187.3,55 188.6,62 L190.6,74.5" stroke="#0a0a0a" stroke-width="3" fill="none" stroke-linecap="round"/>
<path d="M197.2,73 Q199,80 201,90" stroke="#0a0a0a" stroke-width="3" fill="none" stroke-linecap="round"/>
<path d="M208.8,89.2 L211.4,92.4" stroke="#0a0a0a" stroke-width="2.8" fill="none" stroke-linecap="round"/>
<path d="M220.2,92.3 L223.2,93.9" stroke="#0a0a0a" stroke-width="2.6" fill="none" stroke-linecap="round"/>
<path d="M229,93.2 L232.2,94.5" stroke="#0a0a0a" stroke-width="2.6" fill="none" stroke-linecap="round"/>
<path d="M238,93.7 L273,93.5" stroke="#1a1a1a" stroke-width="1.8" fill="none" stroke-dasharray="2.6 0.5"/>
<path d="M194,14.4 L188.9,14.4" stroke="#111" stroke-width="1.5" fill="none"/>
<path d="M189.9,12.0 L189.9,16.8 L184.4,14.4 Z" fill="#111"/>
<text x="196" y="20.2" font-size="10.5" text-anchor="start" stroke="#111" stroke-width="0.3" >0</text>
<path d="M201,30.4 L195.9,30.4" stroke="#111" stroke-width="1.5" fill="none"/>
<path d="M196.9,28.0 L196.9,32.8 L191.4,30.4 Z" fill="#111"/>
<text x="203" y="34.2" font-size="10.5" text-anchor="start" stroke="#111" stroke-width="0.3" >1</text>
<text x="197.6" y="57.8" font-size="10.5" text-anchor="middle" stroke="#111" stroke-width="0.3" >2</text>
<path d="M197.6,59 L197.6,66.6" stroke="#111" stroke-width="1.4" fill="none"/>
<path d="M195.1,65.6 L200.1,65.6 L197.6,71.6 Z" fill="#111"/>
<text x="209.6" y="71.8" font-size="10.5" text-anchor="middle" stroke="#111" stroke-width="0.3" >3</text>
<path d="M210,73 L210,81.6" stroke="#111" stroke-width="1.4" fill="none"/>
<path d="M207.5,80.6 L212.5,80.6 L210,86.6 Z" fill="#111"/>
<text x="221.6" y="75.8" font-size="10.5" text-anchor="middle" stroke="#111" stroke-width="0.3" >4</text>
<path d="M221.6,77 L221.6,85.6" stroke="#111" stroke-width="1.4" fill="none"/>
<path d="M219.1,84.6 L224.1,84.6 L221.6,90.6 Z" fill="#111"/>
<text x="230.6" y="76.2" font-size="10.5" text-anchor="middle" stroke="#111" stroke-width="0.3" >5</text>
<path d="M230.4,77 L230.4,85.6" stroke="#111" stroke-width="1.4" fill="none"/>
<path d="M227.9,84.6 L232.9,84.6 L230.4,90.6 Z" fill="#111"/>
<rect x="34.5" y="261.0" width="250.0" height="204.5" fill="none" stroke="#222" stroke-width="1.25"/>
<line x1="52.36" y1="465.50" x2="52.36" y2="463.30" stroke="#1a1a1a" stroke-width="1"/>
<line x1="52.36" y1="261.00" x2="52.36" y2="263.20" stroke="#1a1a1a" stroke-width="1"/>
<line x1="70.21" y1="465.50" x2="70.21" y2="462.00" stroke="#1a1a1a" stroke-width="1"/>
<line x1="70.21" y1="261.00" x2="70.21" y2="264.50" stroke="#1a1a1a" stroke-width="1"/>
<line x1="88.07" y1="465.50" x2="88.07" y2="463.30" stroke="#1a1a1a" stroke-width="1"/>
<line x1="88.07" y1="261.00" x2="88.07" y2="263.20" stroke="#1a1a1a" stroke-width="1"/>
<line x1="105.93" y1="465.50" x2="105.93" y2="462.00" stroke="#1a1a1a" stroke-width="1"/>
<line x1="105.93" y1="261.00" x2="105.93" y2="264.50" stroke="#1a1a1a" stroke-width="1"/>
<line x1="123.79" y1="465.50" x2="123.79" y2="463.30" stroke="#1a1a1a" stroke-width="1"/>
<line x1="123.79" y1="261.00" x2="123.79" y2="263.20" stroke="#1a1a1a" stroke-width="1"/>
<line x1="141.64" y1="465.50" x2="141.64" y2="462.00" stroke="#1a1a1a" stroke-width="1"/>
<line x1="141.64" y1="261.00" x2="141.64" y2="264.50" stroke="#1a1a1a" stroke-width="1"/>
<line x1="159.50" y1="465.50" x2="159.50" y2="463.30" stroke="#1a1a1a" stroke-width="1"/>
<line x1="159.50" y1="261.00" x2="159.50" y2="263.20" stroke="#1a1a1a" stroke-width="1"/>
<line x1="177.36" y1="465.50" x2="177.36" y2="462.00" stroke="#1a1a1a" stroke-width="1"/>
<line x1="177.36" y1="261.00" x2="177.36" y2="264.50" stroke="#1a1a1a" stroke-width="1"/>
<line x1="195.21" y1="465.50" x2="195.21" y2="463.30" stroke="#1a1a1a" stroke-width="1"/>
<line x1="195.21" y1="261.00" x2="195.21" y2="263.20" stroke="#1a1a1a" stroke-width="1"/>
<line x1="213.07" y1="465.50" x2="213.07" y2="462.00" stroke="#1a1a1a" stroke-width="1"/>
<line x1="213.07" y1="261.00" x2="213.07" y2="264.50" stroke="#1a1a1a" stroke-width="1"/>
<line x1="230.93" y1="465.50" x2="230.93" y2="463.30" stroke="#1a1a1a" stroke-width="1"/>
<line x1="230.93" y1="261.00" x2="230.93" y2="263.20" stroke="#1a1a1a" stroke-width="1"/>
<line x1="248.79" y1="465.50" x2="248.79" y2="462.00" stroke="#1a1a1a" stroke-width="1"/>
<line x1="248.79" y1="261.00" x2="248.79" y2="264.50" stroke="#1a1a1a" stroke-width="1"/>
<line x1="266.64" y1="465.50" x2="266.64" y2="463.30" stroke="#1a1a1a" stroke-width="1"/>
<line x1="266.64" y1="261.00" x2="266.64" y2="263.20" stroke="#1a1a1a" stroke-width="1"/>
<line x1="34.50" y1="446.60" x2="38.50" y2="446.60" stroke="#1a1a1a" stroke-width="1"/>
<line x1="34.50" y1="428.02" x2="36.70" y2="428.02" stroke="#1a1a1a" stroke-width="1"/>
<line x1="34.50" y1="409.44" x2="38.50" y2="409.44" stroke="#1a1a1a" stroke-width="1"/>
<line x1="34.50" y1="390.86" x2="36.70" y2="390.86" stroke="#1a1a1a" stroke-width="1"/>
<line x1="34.50" y1="372.28" x2="38.50" y2="372.28" stroke="#1a1a1a" stroke-width="1"/>
<line x1="34.50" y1="353.70" x2="36.70" y2="353.70" stroke="#1a1a1a" stroke-width="1"/>
<line x1="34.50" y1="335.12" x2="38.50" y2="335.12" stroke="#1a1a1a" stroke-width="1"/>
<line x1="34.50" y1="316.54" x2="36.70" y2="316.54" stroke="#1a1a1a" stroke-width="1"/>
<line x1="34.50" y1="297.96" x2="38.50" y2="297.96" stroke="#1a1a1a" stroke-width="1"/>
<line x1="34.50" y1="279.38" x2="36.70" y2="279.38" stroke="#1a1a1a" stroke-width="1"/>
<line x1="284.50" y1="445.35" x2="282.40" y2="445.35" stroke="#1a1a1a" stroke-width="1"/>
<line x1="284.50" y1="424.90" x2="281.00" y2="424.90" stroke="#1a1a1a" stroke-width="1"/>
<line x1="284.50" y1="404.45" x2="282.40" y2="404.45" stroke="#1a1a1a" stroke-width="1"/>
<line x1="284.50" y1="384.00" x2="281.00" y2="384.00" stroke="#1a1a1a" stroke-width="1"/>
<line x1="284.50" y1="363.55" x2="282.40" y2="363.55" stroke="#1a1a1a" stroke-width="1"/>
<line x1="284.50" y1="343.10" x2="281.00" y2="343.10" stroke="#1a1a1a" stroke-width="1"/>
<line x1="284.50" y1="322.65" x2="282.40" y2="322.65" stroke="#1a1a1a" stroke-width="1"/>
<line x1="284.50" y1="302.20" x2="281.00" y2="302.20" stroke="#1a1a1a" stroke-width="1"/>
<line x1="284.50" y1="281.75" x2="282.40" y2="281.75" stroke="#1a1a1a" stroke-width="1"/>
<text x="30.2" y="449.8" font-size="10.5" text-anchor="end" font-weight="bold" stroke="#111" stroke-width="0.35" >0</text>
<text x="30.2" y="412.6" font-size="10.5" text-anchor="end" font-weight="bold" stroke="#111" stroke-width="0.35" >2</text>
<text x="30.2" y="375.5" font-size="10.5" text-anchor="end" font-weight="bold" stroke="#111" stroke-width="0.35" >4</text>
<text x="30.2" y="338.3" font-size="10.5" text-anchor="end" font-weight="bold" stroke="#111" stroke-width="0.35" >6</text>
<text x="30.2" y="301.2" font-size="10.5" text-anchor="end" font-weight="bold" stroke="#111" stroke-width="0.35" >8</text>
<text x="30.2" y="263.4" font-size="10.5" text-anchor="end" font-weight="bold" stroke="#111" stroke-width="0.35" >10</text>
<text x="290.3" y="264.2" font-size="10.5" text-anchor="start" font-weight="bold" stroke="#111" stroke-width="0.35" >1.5</text>
<text x="290.3" y="305.1" font-size="10.5" text-anchor="start" font-weight="bold" stroke="#111" stroke-width="0.35" >1.0</text>
<text x="290.3" y="346.0" font-size="10.5" text-anchor="start" font-weight="bold" stroke="#111" stroke-width="0.35" >0.5</text>
<text x="290.3" y="386.9" font-size="10.5" text-anchor="start" font-weight="bold" stroke="#111" stroke-width="0.35" >0.0</text>
<text x="290.3" y="427.8" font-size="10.5" text-anchor="start" font-weight="bold" stroke="#111" stroke-width="0.35" >-0.5</text>
<text x="290.3" y="468.7" font-size="10.5" text-anchor="start" font-weight="bold" stroke="#111" stroke-width="0.35" >-1.0</text>
<text x="34.9" y="478.8" font-size="10.5" text-anchor="middle" font-weight="bold" stroke="#111" stroke-width="0.35" >-25</text>
<text x="70.60000000000001" y="478.8" font-size="10.5" text-anchor="middle" font-weight="bold" stroke="#111" stroke-width="0.35" >-20</text>
<text x="106.30000000000001" y="478.8" font-size="10.5" text-anchor="middle" font-weight="bold" stroke="#111" stroke-width="0.35" >-15</text>
<text x="142.0" y="478.8" font-size="10.5" text-anchor="middle" font-weight="bold" stroke="#111" stroke-width="0.35" >-10</text>
<text x="177.8" y="478.8" font-size="10.5" text-anchor="middle" font-weight="bold" stroke="#111" stroke-width="0.35" >-5</text>
<text x="213.4" y="478.8" font-size="10.5" text-anchor="middle" font-weight="bold" stroke="#111" stroke-width="0.35" >0</text>
<text x="249.10000000000002" y="478.8" font-size="10.5" text-anchor="middle" font-weight="bold" stroke="#111" stroke-width="0.35" >5</text>
<text x="285.3" y="478.8" font-size="10.5" text-anchor="middle" font-weight="bold" stroke="#111" stroke-width="0.35" >10</text>
<text x="12.2" y="369" font-size="11" text-anchor="middle" font-weight="bold" stroke="#111" stroke-width="0.35" textLength="54.5" lengthAdjust="spacingAndGlyphs" transform="rotate(-90 12.2 369)" >Force (nN)</text>
<text x="315.5" y="374.5" font-size="11" text-anchor="middle" font-weight="bold" stroke="#111" stroke-width="0.35" textLength="65.5" lengthAdjust="spacingAndGlyphs" transform="rotate(-90 315.5 374.5)" >Current (pA)</text>
<text x="97" y="497" font-size="11" text-anchor="start" font-weight="bold" stroke="#111" stroke-width="0.35" textLength="124.8" lengthAdjust="spacingAndGlyphs" >Piezo Displacement (nm)</text>
<text x="1.5" y="502.5" font-size="12.5" font-family="Liberation Serif, serif">(b)</text>
<path d="M153.0,318.0 L153.2,314.5 L153.3,323.5 L153.4,321.0 L153.4,335.0 L153.6,326.0 L153.8,330.0 L154.4,328.0 L155.2,341.0 L155.6,346.0 L156.0,350.0 L156.6,344.0 L157.0,349.0 L157.3,340.0 L157.6,326.3 L157.8,340.5 L158.5,336.3 L158.6,323.8 L159.5,318.7 L159.8,333.5 L159.9,327.2 L160.3,331.1 L160.7,326.7 L161.1,335.4 L161.7,324.4 L162.3,321.7 L162.4,320.5 L162.7,321.4 L163.5,316.3 L163.8,320.4 L164.0,321.8 L164.5,317.9 L164.8,314.0 L165.0,309.0 L165.0,330.0 L165.6,333.4 L165.8,316.2 L166.4,327.4 L166.8,332.8 L167.0,330.9 L167.4,324.0 L168.1,321.5 L168.2,332.0 L168.7,324.7 L169.1,332.7 L169.5,332.4 L170.0,328.4 L170.6,335.5 L171.1,340.2 L171.1,329.7 L171.6,327.9 L172.4,338.0 L172.4,335.4 L173.0,343.4 L173.2,344.4 L173.8,345.3 L174.5,337.7 L174.7,331.7 L175.1,346.2 L175.3,351.4 L176.2,339.9 L176.4,349.7 L176.7,333.6 L177.2,344.4 L177.4,352.1 L178.2,342.1 L178.5,358.8 L178.8,345.7 L179.2,336.0 L179.4,344.7 L179.4,330.0 L179.9,350.6 L180.3,350.3 L180.6,356.7 L180.9,348.2 L181.3,344.6 L182.0,354.7 L182.0,348.6 L182.5,348.3 L182.8,364.9 L183.7,363.5 L184.0,346.0 L184.2,357.3 L184.5,361.3 L185.5,355.9 L185.5,352.5 L186.2,363.3 L186.4,347.3 L187.2,346.4 L187.5,362.7 L187.6,360.2 L188.1,352.0 L188.7,354.6 L188.8,351.6 L189.5,360.7 L190.1,355.6 L190.1,359.0 L190.4,362.7 L191.2,358.4 L191.4,353.1 L191.6,368.5 L192.6,360.9 L192.9,359.4 L193.2,351.1 L193.8,367.1 L193.8,351.0 L194.4,354.2 L194.6,347.5 L195.5,367.0 L195.9,358.1 L196.0,362.9 L196.6,348.4 L197.0,358.3 L197.3,356.6 L197.6,361.7 L198.2,350.3 L198.7,355.8 L199.1,360.3 L199.3,368.7 L199.9,355.8 L200.1,360.6" stroke="#000" stroke-width="0.55" fill="none"/>
<g fill="#fff" stroke="#000" stroke-width="0.85">
<circle cx="153.0" cy="318.0" r="1.25"/>
<circle cx="153.2" cy="314.5" r="1.25"/>
<circle cx="153.3" cy="323.5" r="1.25"/>
<circle cx="153.4" cy="321.0" r="1.25"/>
<circle cx="153.4" cy="335.0" r="1.25"/>
<circle cx="153.6" cy="326.0" r="1.25"/>
<circle cx="153.8" cy="330.0" r="1.25"/>
<circle cx="154.4" cy="328.0" r="1.25"/>
<circle cx="155.2" cy="341.0" r="1.25"/>
<circle cx="155.6" cy="346.0" r="1.25"/>
<circle cx="156.0" cy="350.0" r="1.25"/>
<circle cx="156.6" cy="344.0" r="1.25"/>
<circle cx="157.0" cy="349.0" r="1.25"/>
<circle cx="157.3" cy="340.0" r="1.25"/>
<circle cx="157.6" cy="326.3" r="1.25"/>
<circle cx="157.8" cy="340.5" r="1.25"/>
<circle cx="158.5" cy="336.3" r="1.25"/>
<circle cx="158.6" cy="323.8" r="1.25"/>
<circle cx="159.5" cy="318.7" r="1.25"/>
<circle cx="159.8" cy="333.5" r="1.25"/>
<circle cx="159.9" cy="327.2" r="1.25"/>
<circle cx="160.3" cy="331.1" r="1.25"/>
<circle cx="160.7" cy="326.7" r="1.25"/>
<circle cx="161.1" cy="335.4" r="1.25"/>
<circle cx="161.7" cy="324.4" r="1.25"/>
<circle cx="162.3" cy="321.7" r="1.25"/>
<circle cx="162.4" cy="320.5" r="1.25"/>
<circle cx="162.7" cy="321.4" r="1.25"/>
<circle cx="163.5" cy="316.3" r="1.25"/>
<circle cx="163.8" cy="320.4" r="1.25"/>
<circle cx="164.0" cy="321.8" r="1.25"/>
<circle cx="164.5" cy="317.9" r="1.25"/>
<circle cx="164.8" cy="314.0" r="1.25"/>
<circle cx="165.0" cy="309.0" r="1.25"/>
<circle cx="165.0" cy="330.0" r="1.25"/>
<circle cx="165.6" cy="333.4" r="1.25"/>
<circle cx="165.8" cy="316.2" r="1.25"/>
<circle cx="166.4" cy="327.4" r="1.25"/>
<circle cx="166.8" cy="332.8" r="1.25"/>
<circle cx="167.0" cy="330.9" r="1.25"/>
<circle cx="167.4" cy="324.0" r="1.25"/>
<circle cx="168.1" cy="321.5" r="1.25"/>
<circle cx="168.2" cy="332.0" r="1.25"/>
<circle cx="168.7" cy="324.7" r="1.25"/>
<circle cx="169.1" cy="332.7" r="1.25"/>
<circle cx="169.5" cy="332.4" r="1.25"/>
<circle cx="170.0" cy="328.4" r="1.25"/>
<circle cx="170.6" cy="335.5" r="1.25"/>
<circle cx="171.1" cy="340.2" r="1.25"/>
<circle cx="171.1" cy="329.7" r="1.25"/>
<circle cx="171.6" cy="327.9" r="1.25"/>
<circle cx="172.4" cy="338.0" r="1.25"/>
<circle cx="172.4" cy="335.4" r="1.25"/>
<circle cx="173.0" cy="343.4" r="1.25"/>
<circle cx="173.2" cy="344.4" r="1.25"/>
<circle cx="173.8" cy="345.3" r="1.25"/>
<circle cx="174.5" cy="337.7" r="1.25"/>
<circle cx="174.7" cy="331.7" r="1.25"/>
<circle cx="175.1" cy="346.2" r="1.25"/>
<circle cx="175.3" cy="351.4" r="1.25"/>
<circle cx="176.2" cy="339.9" r="1.25"/>
<circle cx="176.4" cy="349.7" r="1.25"/>
<circle cx="176.7" cy="333.6" r="1.25"/>
<circle cx="177.2" cy="344.4" r="1.25"/>
<circle cx="177.4" cy="352.1" r="1.25"/>
<circle cx="178.2" cy="342.1" r="1.25"/>
<circle cx="178.5" cy="358.8" r="1.25"/>
<circle cx="178.8" cy="345.7" r="1.25"/>
<circle cx="179.2" cy="336.0" r="1.25"/>
<circle cx="179.4" cy="344.7" r="1.25"/>
<circle cx="179.4" cy="330.0" r="1.25"/>
<circle cx="179.9" cy="350.6" r="1.25"/>
<circle cx="180.3" cy="350.3" r="1.25"/>
<circle cx="180.6" cy="356.7" r="1.25"/>
<circle cx="180.9" cy="348.2" r="1.25"/>
<circle cx="181.3" cy="344.6" r="1.25"/>
<circle cx="182.0" cy="354.7" r="1.25"/>
<circle cx="182.0" cy="348.6" r="1.25"/>
<circle cx="182.5" cy="348.3" r="1.25"/>
<circle cx="182.8" cy="364.9" r="1.25"/>
<circle cx="183.7" cy="363.5" r="1.25"/>
<circle cx="184.0" cy="346.0" r="1.25"/>
<circle cx="184.2" cy="357.3" r="1.25"/>
<circle cx="184.5" cy="361.3" r="1.25"/>
<circle cx="185.5" cy="355.9" r="1.25"/>
<circle cx="185.5" cy="352.5" r="1.25"/>
<circle cx="186.2" cy="363.3" r="1.25"/>
<circle cx="186.4" cy="347.3" r="1.25"/>
<circle cx="187.2" cy="346.4" r="1.25"/>
<circle cx="187.5" cy="362.7" r="1.25"/>
<circle cx="187.6" cy="360.2" r="1.25"/>
<circle cx="188.1" cy="352.0" r="1.25"/>
<circle cx="188.7" cy="354.6" r="1.25"/>
<circle cx="188.8" cy="351.6" r="1.25"/>
<circle cx="189.5" cy="360.7" r="1.25"/>
<circle cx="190.1" cy="355.6" r="1.25"/>
<circle cx="190.1" cy="359.0" r="1.25"/>
<circle cx="190.4" cy="362.7" r="1.25"/>
<circle cx="191.2" cy="358.4" r="1.25"/>
<circle cx="191.4" cy="353.1" r="1.25"/>
<circle cx="191.6" cy="368.5" r="1.25"/>
<circle cx="192.6" cy="360.9" r="1.25"/>
<circle cx="192.9" cy="359.4" r="1.25"/>
<circle cx="193.2" cy="351.1" r="1.25"/>
<circle cx="193.8" cy="367.1" r="1.25"/>
<circle cx="193.8" cy="351.0" r="1.25"/>
<circle cx="194.4" cy="354.2" r="1.25"/>
<circle cx="194.6" cy="347.5" r="1.25"/>
<circle cx="195.5" cy="367.0" r="1.25"/>
<circle cx="195.9" cy="358.1" r="1.25"/>
<circle cx="196.0" cy="362.9" r="1.25"/>
<circle cx="196.6" cy="348.4" r="1.25"/>
<circle cx="197.0" cy="358.3" r="1.25"/>
<circle cx="197.3" cy="356.6" r="1.25"/>
<circle cx="197.6" cy="361.7" r="1.25"/>
<circle cx="198.2" cy="350.3" r="1.25"/>
<circle cx="198.7" cy="355.8" r="1.25"/>
<circle cx="199.1" cy="360.3" r="1.25"/>
<circle cx="199.3" cy="368.7" r="1.25"/>
<circle cx="199.9" cy="355.8" r="1.25"/>
<circle cx="200.1" cy="360.6" r="1.25"/>
</g>
<path d="M200.1,360.6 L201.0,392.0 L201.3,397.0 L200.4,379.1 L200.7,371.9 L200.9,384.0 L200.8,380.1 L201.5,380.9 L201.3,387.9 L201.8,373.0 L201.7,388.6 L202.1,388.3 L202.0,377.3 L202.4,369.3 L202.6,384.2 L202.9,386.0 L203.1,386.7 L203.5,373.5 L203.7,382.6 L203.9,370.5 L204.2,387.3 L203.8,384.5 L204.5,373.7 L204.8,384.1 L204.7,388.8 L204.9,373.2 L205.3,374.0 L205.3,375.4 L205.3,386.8 L205.7,386.0 L205.6,373.1 L205.9,382.8 L206.0,371.5 L206.7,382.7 L206.5,389.0 L206.8,387.8 L207.0,374.1 L207.5,383.4 L207.4,380.1 L207.7,378.0 L207.9,377.2 L207.8,380.2 L208.1,384.0 L208.4,374.3 L208.7,381.1 L209.2,393.1 L209.3,388.8 L209.5,382.2 L209.4,385.4 L209.9,389.1 L210.1,384.1 L210.1,382.0 L210.2,373.1 L210.4,378.8 L210.6,375.0 L210.7,377.5 L211.3,379.7 L211.3,381.6 L211.2,377.4 L211.6,381.2 L211.8,388.0 L212.2,372.7 L212.6,379.6 L212.7,379.4 L212.7,388.4 L212.8,376.5 L213.0,384.9 L213.1,379.1 L213.7,385.9 L213.5,387.8 L213.6,386.4 L214.3,377.9 L214.3,389.3 L214.6,389.8 L214.8,385.2 L214.8,383.9 L215.0,371.5 L215.4,374.6 L215.4,379.8 L215.4,384.5 L215.6,380.8 L216.2,377.8 L216.1,386.7 L216.3,385.1 L216.8,382.7 L217.0,381.2 L217.0,387.5 L217.5,385.2 L217.8,382.4 L217.6,381.9 L217.6,379.6 L218.2,382.7 L218.1,390.0 L218.3,371.0 L218.7,382.1 L218.7,389.1 L218.9,386.3 L219.6,376.5 L219.3,391.2 L219.7,381.6 L219.9,379.5 L220.3,372.2 L220.4,377.8 L220.7,369.6 L221.0,389.1 L221.0,374.7 L221.1,376.3 L221.1,385.0 L221.8,373.4 L221.7,375.7 L221.8,383.0 L222.3,374.9 L222.5,375.2 L222.6,380.3 L222.9,375.1 L223.1,378.2 L222.9,384.6 L223.6,377.1 L223.8,370.3 L223.9,373.1 L223.7,383.5 L223.9,379.6 L224.5,389.2 L224.2,375.6 L224.4,377.9 L224.7,379.3 L225.4,376.9 L225.5,371.6 L225.5,373.8 L225.8,372.9 L225.7,375.3 L226.1,388.6 L226.6,389.6 L226.6,376.4 L226.4,372.2 L226.9,377.0 L226.8,383.9 L227.4,378.8 L227.8,387.5 L227.8,377.6 L228.2,379.8 L228.0,382.6 L228.0,387.8 L228.8,374.0 L228.5,373.0 L228.7,388.5 L228.8,380.7 L229.2,382.1 L229.8,369.5 L229.8,385.5 L230.2,374.8 L230.2,383.6 L230.2,383.0 L230.6,383.1 L230.7,377.0 L231.0,377.3 L231.2,379.9 L231.3,377.2 L231.5,384.2 L231.7,387.2 L232.1,380.8 L232.2,390.2 L232.0,375.8 L232.7,387.9 L232.6,372.9 L232.8,384.9 L232.9,378.0 L233.6,382.6 L233.7,386.6 L233.5,382.8 L233.7,379.4 L234.0,379.2 L234.3,371.3 L234.3,384.8 L234.5,389.1 L234.7,384.1 L235.1,385.7 L235.4,379.7 L235.4,385.5 L235.6,376.6 L235.8,375.5 L236.1,391.1 L236.4,382.3 L236.6,379.6 L236.6,382.3 L236.9,388.9 L237.2,379.3 L237.3,385.9 L237.7,380.3 L237.7,382.0 L238.0,376.0 L237.8,381.4 L238.5,371.5 L238.3,372.0 L238.5,385.1 L238.9,370.0 L239.1,368.6 L239.4,373.3 L239.7,385.1 L239.5,376.8 L240.2,375.7 L240.0,376.5 L240.3,384.3 L240.5,369.9 L240.9,391.4 L240.8,376.4 L241.0,380.5 L241.3,380.1 L241.3,391.7 L241.7,370.2 L241.8,383.9 L242.0,376.2 L242.4,385.4 L242.6,381.3 L242.9,370.4 L242.9,386.8 L242.8,383.6 L243.1,386.4 L243.5,382.9 L243.8,377.0 L243.7,392.6 L243.9,374.7 L244.6,380.5 L244.6,377.7 L244.5,369.7 L245.0,371.7 L244.9,380.9 L245.2,384.0 L245.4,390.9 L245.5,388.6 L245.6,377.8 L246.2,373.9 L246.3,385.1 L246.5,386.8 L246.5,391.6 L247.2,388.3 L247.0,385.5 L247.3,391.3 L247.7,383.7 L247.7,372.8 L248.1,388.9 L247.9,391.8 L248.6,377.7 L248.8,385.3 L248.7,375.7 L249.0,374.1 L248.8,380.3 L249.1,382.2 L249.5,368.4 L249.7,371.5 L249.9,376.6 L250.0,384.5 L250.6,377.9 L250.7,387.3 L250.5,388.6 L250.7,379.5 L251.1,373.2 L251.3,379.8 L251.4,375.2 L251.5,376.5 L252.1,368.8 L252.4,380.9 L252.4,372.6 L252.7,373.2 L252.6,381.3 L252.8,390.7 L252.9,383.7 L253.5,386.2 L253.6,391.2 L253.4,381.8 L253.8,383.9 L254.1,393.6 L254.2,378.8 L254.3,374.9 L254.5,374.5 L254.7,374.5 L255.4,392.5 L255.5,376.9 L255.7,385.8 L255.8,371.7 L256.1,369.5 L256.2,379.8 L256.4,389.6 L256.3,391.0 L256.8,386.0 L257.1,379.3 L257.3,389.6 L257.2,385.9 L257.3,389.5 L257.9,376.0 L257.7,378.5 L257.9,382.6 L258.4,376.7 L258.7,384.9 L258.9,374.6 L258.7,384.5 L259.2,386.2 L259.5,369.8 L259.3,387.1 L259.7,381.1 L259.7,377.9 L260.3,382.8 L260.2,385.5 L260.5,384.2 L260.8,370.0 L261.1,373.3 L261.0,379.2 L261.5,384.2 L261.5,389.0 L261.7,392.0 L261.7,384.2 L261.8,375.5 L262.5,374.6 L262.4,368.7 L262.7,376.7 L263.2,388.4 L263.2,378.7 L263.6,376.3 L263.4,378.8 L263.8,387.3 L264.2,371.2 L264.3,382.5 L264.5,388.0 L264.6,387.3 L264.5,390.4 L265.1,371.0 L264.8,377.0 L265.4,382.9 L265.4,384.4 L265.7,388.6 L266.0,375.4 L266.4,384.4 L266.1,380.7 L266.7,386.1 L266.7,389.2 L266.7,386.2 L266.8,377.6 L267.2,391.4 L267.4,389.5 L267.5,375.9 L267.8,378.6 L268.0,390.1 L268.5,380.7 L268.7,383.7 L268.5,384.4 L268.9,380.3 L269.0,375.0 L269.6,380.5 L269.4,388.7 L269.4,385.8 L270.2,374.9 L269.9,368.6 L270.4,377.8 L270.7,371.4 L271.0,385.7 L271.0,382.9 L271.2,379.8 L271.2,386.2 L271.7,382.1 L271.7,384.8 L271.8,370.8 L272.0,382.1 L272.3,376.3 L272.5,377.5 L272.9,370.5 L273.0,382.0 L273.3,385.6 L273.5,384.3 L273.6,384.1 L273.8,378.0 L274.1,376.7 L273.9,376.9 L274.6,388.3 L274.4,387.8 L274.6,371.6 L275.0,372.8 L275.1,382.3 L275.5,371.2 L275.3,382.4 L275.6,375.8 L276.1,373.9 L276.3,386.5 L276.5,370.5 L276.5,381.2 L276.8,383.3 L276.8,379.7 L277.3,390.2 L277.5,387.7 L277.2,384.7 L277.5,378.4 L277.9,374.6 L277.9,378.2 L278.4,382.0 L278.5,373.8 L278.6,380.6 L279.0,390.4 L279.4,380.8 L279.4,371.4 L279.7,385.4 L279.8,374.9 L280.0,391.7 L280.0,371.7 L280.5,388.4 L280.5,373.0 L280.9,380.5 L281.2,389.7 L281.3,370.7 L281.1,380.6 L281.4,370.4 L281.9,389.7 L281.9,383.7 L282.0,387.6 L282.0,373.7 L282.6,381.3 L282.9,379.9 L282.6,388.0 L283.0,383.0 L283.5,379.4" stroke="#000" stroke-width="0.5" fill="none"/>
<g fill="#fff" stroke="#000" stroke-width="1.0">
<circle cx="200.1" cy="360.6" r="1.3"/>
<circle cx="201.0" cy="392.0" r="1.3"/>
<circle cx="201.3" cy="397.0" r="1.3"/>
<circle cx="200.4" cy="379.1" r="1.3"/>
<circle cx="200.7" cy="371.9" r="1.3"/>
<circle cx="200.9" cy="384.0" r="1.3"/>
<circle cx="200.8" cy="380.1" r="1.3"/>
<circle cx="201.5" cy="380.9" r="1.3"/>
<circle cx="201.3" cy="387.9" r="1.3"/>
<circle cx="201.8" cy="373.0" r="1.3"/>
<circle cx="201.7" cy="388.6" r="1.3"/>
<circle cx="202.1" cy="388.3" r="1.3"/>
<circle cx="202.0" cy="377.3" r="1.3"/>
<circle cx="202.4" cy="369.3" r="1.3"/>
<circle cx="202.6" cy="384.2" r="1.3"/>
<circle cx="202.9" cy="386.0" r="1.3"/>
<circle cx="203.1" cy="386.7" r="1.3"/>
<circle cx="203.5" cy="373.5" r="1.3"/>
<circle cx="203.7" cy="382.6" r="1.3"/>
<circle cx="203.9" cy="370.5" r="1.3"/>
<circle cx="204.2" cy="387.3" r="1.3"/>
<circle cx="203.8" cy="384.5" r="1.3"/>
<circle cx="204.5" cy="373.7" r="1.3"/>
<circle cx="204.8" cy="384.1" r="1.3"/>
<circle cx="204.7" cy="388.8" r="1.3"/>
<circle cx="204.9" cy="373.2" r="1.3"/>
<circle cx="205.3" cy="374.0" r="1.3"/>
<circle cx="205.3" cy="375.4" r="1.3"/>
<circle cx="205.3" cy="386.8" r="1.3"/>
<circle cx="205.7" cy="386.0" r="1.3"/>
<circle cx="205.6" cy="373.1" r="1.3"/>
<circle cx="205.9" cy="382.8" r="1.3"/>
<circle cx="206.0" cy="371.5" r="1.3"/>
<circle cx="206.7" cy="382.7" r="1.3"/>
<circle cx="206.5" cy="389.0" r="1.3"/>
<circle cx="206.8" cy="387.8" r="1.3"/>
<circle cx="207.0" cy="374.1" r="1.3"/>
<circle cx="207.5" cy="383.4" r="1.3"/>
<circle cx="207.4" cy="380.1" r="1.3"/>
<circle cx="207.7" cy="378.0" r="1.3"/>
<circle cx="207.9" cy="377.2" r="1.3"/>
<circle cx="207.8" cy="380.2" r="1.3"/>
<circle cx="208.1" cy="384.0" r="1.3"/>
<circle cx="208.4" cy="374.3" r="1.3"/>
<circle cx="208.7" cy="381.1" r="1.3"/>
<circle cx="209.2" cy="393.1" r="1.3"/>
<circle cx="209.3" cy="388.8" r="1.3"/>
<circle cx="209.5" cy="382.2" r="1.3"/>
<circle cx="209.4" cy="385.4" r="1.3"/>
<circle cx="209.9" cy="389.1" r="1.3"/>
<circle cx="210.1" cy="384.1" r="1.3"/>
<circle cx="210.1" cy="382.0" r="1.3"/>
<circle cx="210.2" cy="373.1" r="1.3"/>
<circle cx="210.4" cy="378.8" r="1.3"/>
<circle cx="210.6" cy="375.0" r="1.3"/>
<circle cx="210.7" cy="377.5" r="1.3"/>
<circle cx="211.3" cy="379.7" r="1.3"/>
<circle cx="211.3" cy="381.6" r="1.3"/>
<circle cx="211.2" cy="377.4" r="1.3"/>
<circle cx="211.6" cy="381.2" r="1.3"/>
<circle cx="211.8" cy="388.0" r="1.3"/>
<circle cx="212.2" cy="372.7" r="1.3"/>
<circle cx="212.6" cy="379.6" r="1.3"/>
<circle cx="212.7" cy="379.4" r="1.3"/>
<circle cx="212.7" cy="388.4" r="1.3"/>
<circle cx="212.8" cy="376.5" r="1.3"/>
<circle cx="213.0" cy="384.9" r="1.3"/>
<circle cx="213.1" cy="379.1" r="1.3"/>
<circle cx="213.7" cy="385.9" r="1.3"/>
<circle cx="213.5" cy="387.8" r="1.3"/>
<circle cx="213.6" cy="386.4" r="1.3"/>
<circle cx="214.3" cy="377.9" r="1.3"/>
<circle cx="214.3" cy="389.3" r="1.3"/>
<circle cx="214.6" cy="389.8" r="1.3"/>
<circle cx="214.8" cy="385.2" r="1.3"/>
<circle cx="214.8" cy="383.9" r="1.3"/>
<circle cx="215.0" cy="371.5" r="1.3"/>
<circle cx="215.4" cy="374.6" r="1.3"/>
<circle cx="215.4" cy="379.8" r="1.3"/>
<circle cx="215.4" cy="384.5" r="1.3"/>
<circle cx="215.6" cy="380.8" r="1.3"/>
<circle cx="216.2" cy="377.8" r="1.3"/>
<circle cx="216.1" cy="386.7" r="1.3"/>
<circle cx="216.3" cy="385.1" r="1.3"/>
<circle cx="216.8" cy="382.7" r="1.3"/>
<circle cx="217.0" cy="381.2" r="1.3"/>
<circle cx="217.0" cy="387.5" r="1.3"/>
<circle cx="217.5" cy="385.2" r="1.3"/>
<circle cx="217.8" cy="382.4" r="1.3"/>
<circle cx="217.6" cy="381.9" r="1.3"/>
<circle cx="217.6" cy="379.6" r="1.3"/>
<circle cx="218.2" cy="382.7" r="1.3"/>
<circle cx="218.1" cy="390.0" r="1.3"/>
<circle cx="218.3" cy="371.0" r="1.3"/>
<circle cx="218.7" cy="382.1" r="1.3"/>
<circle cx="218.7" cy="389.1" r="1.3"/>
<circle cx="218.9" cy="386.3" r="1.3"/>
<circle cx="219.6" cy="376.5" r="1.3"/>
<circle cx="219.3" cy="391.2" r="1.3"/>
<circle cx="219.7" cy="381.6" r="1.3"/>
<circle cx="219.9" cy="379.5" r="1.3"/>
<circle cx="220.3" cy="372.2" r="1.3"/>
<circle cx="220.4" cy="377.8" r="1.3"/>
<circle cx="220.7" cy="369.6" r="1.3"/>
<circle cx="221.0" cy="389.1" r="1.3"/>
<circle cx="221.0" cy="374.7" r="1.3"/>
<circle cx="221.1" cy="376.3" r="1.3"/>
<circle cx="221.1" cy="385.0" r="1.3"/>
<circle cx="221.8" cy="373.4" r="1.3"/>
<circle cx="221.7" cy="375.7" r="1.3"/>
<circle cx="221.8" cy="383.0" r="1.3"/>
<circle cx="222.3" cy="374.9" r="1.3"/>
<circle cx="222.5" cy="375.2" r="1.3"/>
<circle cx="222.6" cy="380.3" r="1.3"/>
<circle cx="222.9" cy="375.1" r="1.3"/>
<circle cx="223.1" cy="378.2" r="1.3"/>
<circle cx="222.9" cy="384.6" r="1.3"/>
<circle cx="223.6" cy="377.1" r="1.3"/>
<circle cx="223.8" cy="370.3" r="1.3"/>
<circle cx="223.9" cy="373.1" r="1.3"/>
<circle cx="223.7" cy="383.5" r="1.3"/>
<circle cx="223.9" cy="379.6" r="1.3"/>
<circle cx="224.5" cy="389.2" r="1.3"/>
<circle cx="224.2" cy="375.6" r="1.3"/>
<circle cx="224.4" cy="377.9" r="1.3"/>
<circle cx="224.7" cy="379.3" r="1.3"/>
<circle cx="225.4" cy="376.9" r="1.3"/>
<circle cx="225.5" cy="371.6" r="1.3"/>
<circle cx="225.5" cy="373.8" r="1.3"/>
<circle cx="225.8" cy="372.9" r="1.3"/>
<circle cx="225.7" cy="375.3" r="1.3"/>
<circle cx="226.1" cy="388.6" r="1.3"/>
<circle cx="226.6" cy="389.6" r="1.3"/>
<circle cx="226.6" cy="376.4" r="1.3"/>
<circle cx="226.4" cy="372.2" r="1.3"/>
<circle cx="226.9" cy="377.0" r="1.3"/>
<circle cx="226.8" cy="383.9" r="1.3"/>
<circle cx="227.4" cy="378.8" r="1.3"/>
<circle cx="227.8" cy="387.5" r="1.3"/>
<circle cx="227.8" cy="377.6" r="1.3"/>
<circle cx="228.2" cy="379.8" r="1.3"/>
<circle cx="228.0" cy="382.6" r="1.3"/>
<circle cx="228.0" cy="387.8" r="1.3"/>
<circle cx="228.8" cy="374.0" r="1.3"/>
<circle cx="228.5" cy="373.0" r="1.3"/>
<circle cx="228.7" cy="388.5" r="1.3"/>
<circle cx="228.8" cy="380.7" r="1.3"/>
<circle cx="229.2" cy="382.1" r="1.3"/>
<circle cx="229.8" cy="369.5" r="1.3"/>
<circle cx="229.8" cy="385.5" r="1.3"/>
<circle cx="230.2" cy="374.8" r="1.3"/>
<circle cx="230.2" cy="383.6" r="1.3"/>
<circle cx="230.2" cy="383.0" r="1.3"/>
<circle cx="230.6" cy="383.1" r="1.3"/>
<circle cx="230.7" cy="377.0" r="1.3"/>
<circle cx="231.0" cy="377.3" r="1.3"/>
<circle cx="231.2" cy="379.9" r="1.3"/>
<circle cx="231.3" cy="377.2" r="1.3"/>
<circle cx="231.5" cy="384.2" r="1.3"/>
<circle cx="231.7" cy="387.2" r="1.3"/>
<circle cx="232.1" cy="380.8" r="1.3"/>
<circle cx="232.2" cy="390.2" r="1.3"/>
<circle cx="232.0" cy="375.8" r="1.3"/>
<circle cx="232.7" cy="387.9" r="1.3"/>
<circle cx="232.6" cy="372.9" r="1.3"/>
<circle cx="232.8" cy="384.9" r="1.3"/>
<circle cx="232.9" cy="378.0" r="1.3"/>
<circle cx="233.6" cy="382.6" r="1.3"/>
<circle cx="233.7" cy="386.6" r="1.3"/>
<circle cx="233.5" cy="382.8" r="1.3"/>
<circle cx="233.7" cy="379.4" r="1.3"/>
<circle cx="234.0" cy="379.2" r="1.3"/>
<circle cx="234.3" cy="371.3" r="1.3"/>
<circle cx="234.3" cy="384.8" r="1.3"/>
<circle cx="234.5" cy="389.1" r="1.3"/>
<circle cx="234.7" cy="384.1" r="1.3"/>
<circle cx="235.1" cy="385.7" r="1.3"/>
<circle cx="235.4" cy="379.7" r="1.3"/>
<circle cx="235.4" cy="385.5" r="1.3"/>
<circle cx="235.6" cy="376.6" r="1.3"/>
<circle cx="235.8" cy="375.5" r="1.3"/>
<circle cx="236.1" cy="391.1" r="1.3"/>
<circle cx="236.4" cy="382.3" r="1.3"/>
<circle cx="236.6" cy="379.6" r="1.3"/>
<circle cx="236.6" cy="382.3" r="1.3"/>
<circle cx="236.9" cy="388.9" r="1.3"/>
<circle cx="237.2" cy="379.3" r="1.3"/>
<circle cx="237.3" cy="385.9" r="1.3"/>
<circle cx="237.7" cy="380.3" r="1.3"/>
<circle cx="237.7" cy="382.0" r="1.3"/>
<circle cx="238.0" cy="376.0" r="1.3"/>
<circle cx="237.8" cy="381.4" r="1.3"/>
<circle cx="238.5" cy="371.5" r="1.3"/>
<circle cx="238.3" cy="372.0" r="1.3"/>
<circle cx="238.5" cy="385.1" r="1.3"/>
<circle cx="238.9" cy="370.0" r="1.3"/>
<circle cx="239.1" cy="368.6" r="1.3"/>
<circle cx="239.4" cy="373.3" r="1.3"/>
<circle cx="239.7" cy="385.1" r="1.3"/>
<circle cx="239.5" cy="376.8" r="1.3"/>
<circle cx="240.2" cy="375.7" r="1.3"/>
<circle cx="240.0" cy="376.5" r="1.3"/>
<circle cx="240.3" cy="384.3" r="1.3"/>
<circle cx="240.5" cy="369.9" r="1.3"/>
<circle cx="240.9" cy="391.4" r="1.3"/>
<circle cx="240.8" cy="376.4" r="1.3"/>
<circle cx="241.0" cy="380.5" r="1.3"/>
<circle cx="241.3" cy="380.1" r="1.3"/>
<circle cx="241.3" cy="391.7" r="1.3"/>
<circle cx="241.7" cy="370.2" r="1.3"/>
<circle cx="241.8" cy="383.9" r="1.3"/>
<circle cx="242.0" cy="376.2" r="1.3"/>
<circle cx="242.4" cy="385.4" r="1.3"/>
<circle cx="242.6" cy="381.3" r="1.3"/>
<circle cx="242.9" cy="370.4" r="1.3"/>
<circle cx="242.9" cy="386.8" r="1.3"/>
<circle cx="242.8" cy="383.6" r="1.3"/>
<circle cx="243.1" cy="386.4" r="1.3"/>
<circle cx="243.5" cy="382.9" r="1.3"/>
<circle cx="243.8" cy="377.0" r="1.3"/>
<circle cx="243.7" cy="392.6" r="1.3"/>
<circle cx="243.9" cy="374.7" r="1.3"/>
<circle cx="244.6" cy="380.5" r="1.3"/>
<circle cx="244.6" cy="377.7" r="1.3"/>
<circle cx="244.5" cy="369.7" r="1.3"/>
<circle cx="245.0" cy="371.7" r="1.3"/>
<circle cx="244.9" cy="380.9" r="1.3"/>
<circle cx="245.2" cy="384.0" r="1.3"/>
<circle cx="245.4" cy="390.9" r="1.3"/>
<circle cx="245.5" cy="388.6" r="1.3"/>
<circle cx="245.6" cy="377.8" r="1.3"/>
<circle cx="246.2" cy="373.9" r="1.3"/>
<circle cx="246.3" cy="385.1" r="1.3"/>
<circle cx="246.5" cy="386.8" r="1.3"/>
<circle cx="246.5" cy="391.6" r="1.3"/>
<circle cx="247.2" cy="388.3" r="1.3"/>
<circle cx="247.0" cy="385.5" r="1.3"/>
<circle cx="247.3" cy="391.3" r="1.3"/>
<circle cx="247.7" cy="383.7" r="1.3"/>
<circle cx="247.7" cy="372.8" r="1.3"/>
<circle cx="248.1" cy="388.9" r="1.3"/>
<circle cx="247.9" cy="391.8" r="1.3"/>
<circle cx="248.6" cy="377.7" r="1.3"/>
<circle cx="248.8" cy="385.3" r="1.3"/>
<circle cx="248.7" cy="375.7" r="1.3"/>
<circle cx="249.0" cy="374.1" r="1.3"/>
<circle cx="248.8" cy="380.3" r="1.3"/>
<circle cx="249.1" cy="382.2" r="1.3"/>
<circle cx="249.5" cy="368.4" r="1.3"/>
<circle cx="249.7" cy="371.5" r="1.3"/>
<circle cx="249.9" cy="376.6" r="1.3"/>
<circle cx="250.0" cy="384.5" r="1.3"/>
<circle cx="250.6" cy="377.9" r="1.3"/>
<circle cx="250.7" cy="387.3" r="1.3"/>
<circle cx="250.5" cy="388.6" r="1.3"/>
<circle cx="250.7" cy="379.5" r="1.3"/>
<circle cx="251.1" cy="373.2" r="1.3"/>
<circle cx="251.3" cy="379.8" r="1.3"/>
<circle cx="251.4" cy="375.2" r="1.3"/>
<circle cx="251.5" cy="376.5" r="1.3"/>
<circle cx="252.1" cy="368.8" r="1.3"/>
<circle cx="252.4" cy="380.9" r="1.3"/>
<circle cx="252.4" cy="372.6" r="1.3"/>
<circle cx="252.7" cy="373.2" r="1.3"/>
<circle cx="252.6" cy="381.3" r="1.3"/>
<circle cx="252.8" cy="390.7" r="1.3"/>
<circle cx="252.9" cy="383.7" r="1.3"/>
<circle cx="253.5" cy="386.2" r="1.3"/>
<circle cx="253.6" cy="391.2" r="1.3"/>
<circle cx="253.4" cy="381.8" r="1.3"/>
<circle cx="253.8" cy="383.9" r="1.3"/>
<circle cx="254.1" cy="393.6" r="1.3"/>
<circle cx="254.2" cy="378.8" r="1.3"/>
<circle cx="254.3" cy="374.9" r="1.3"/>
<circle cx="254.5" cy="374.5" r="1.3"/>
<circle cx="254.7" cy="374.5" r="1.3"/>
<circle cx="255.4" cy="392.5" r="1.3"/>
<circle cx="255.5" cy="376.9" r="1.3"/>
<circle cx="255.7" cy="385.8" r="1.3"/>
<circle cx="255.8" cy="371.7" r="1.3"/>
<circle cx="256.1" cy="369.5" r="1.3"/>
<circle cx="256.2" cy="379.8" r="1.3"/>
<circle cx="256.4" cy="389.6" r="1.3"/>
<circle cx="256.3" cy="391.0" r="1.3"/>
<circle cx="256.8" cy="386.0" r="1.3"/>
<circle cx="257.1" cy="379.3" r="1.3"/>
<circle cx="257.3" cy="389.6" r="1.3"/>
<circle cx="257.2" cy="385.9" r="1.3"/>
<circle cx="257.3" cy="389.5" r="1.3"/>
<circle cx="257.9" cy="376.0" r="1.3"/>
<circle cx="257.7" cy="378.5" r="1.3"/>
<circle cx="257.9" cy="382.6" r="1.3"/>
<circle cx="258.4" cy="376.7" r="1.3"/>
<circle cx="258.7" cy="384.9" r="1.3"/>
<circle cx="258.9" cy="374.6" r="1.3"/>
<circle cx="258.7" cy="384.5" r="1.3"/>
<circle cx="259.2" cy="386.2" r="1.3"/>
<circle cx="259.5" cy="369.8" r="1.3"/>
<circle cx="259.3" cy="387.1" r="1.3"/>
<circle cx="259.7" cy="381.1" r="1.3"/>
<circle cx="259.7" cy="377.9" r="1.3"/>
<circle cx="260.3" cy="382.8" r="1.3"/>
<circle cx="260.2" cy="385.5" r="1.3"/>
<circle cx="260.5" cy="384.2" r="1.3"/>
<circle cx="260.8" cy="370.0" r="1.3"/>
<circle cx="261.1" cy="373.3" r="1.3"/>
<circle cx="261.0" cy="379.2" r="1.3"/>
<circle cx="261.5" cy="384.2" r="1.3"/>
<circle cx="261.5" cy="389.0" r="1.3"/>
<circle cx="261.7" cy="392.0" r="1.3"/>
<circle cx="261.7" cy="384.2" r="1.3"/>
<circle cx="261.8" cy="375.5" r="1.3"/>
<circle cx="262.5" cy="374.6" r="1.3"/>
<circle cx="262.4" cy="368.7" r="1.3"/>
<circle cx="262.7" cy="376.7" r="1.3"/>
<circle cx="263.2" cy="388.4" r="1.3"/>
<circle cx="263.2" cy="378.7" r="1.3"/>
<circle cx="263.6" cy="376.3" r="1.3"/>
<circle cx="263.4" cy="378.8" r="1.3"/>
<circle cx="263.8" cy="387.3" r="1.3"/>
<circle cx="264.2" cy="371.2" r="1.3"/>
<circle cx="264.3" cy="382.5" r="1.3"/>
<circle cx="264.5" cy="388.0" r="1.3"/>
<circle cx="264.6" cy="387.3" r="1.3"/>
<circle cx="264.5" cy="390.4" r="1.3"/>
<circle cx="265.1" cy="371.0" r="1.3"/>
<circle cx="264.8" cy="377.0" r="1.3"/>
<circle cx="265.4" cy="382.9" r="1.3"/>
<circle cx="265.4" cy="384.4" r="1.3"/>
<circle cx="265.7" cy="388.6" r="1.3"/>
<circle cx="266.0" cy="375.4" r="1.3"/>
<circle cx="266.4" cy="384.4" r="1.3"/>
<circle cx="266.1" cy="380.7" r="1.3"/>
<circle cx="266.7" cy="386.1" r="1.3"/>
<circle cx="266.7" cy="389.2" r="1.3"/>
<circle cx="266.7" cy="386.2" r="1.3"/>
<circle cx="266.8" cy="377.6" r="1.3"/>
<circle cx="267.2" cy="391.4" r="1.3"/>
<circle cx="267.4" cy="389.5" r="1.3"/>
<circle cx="267.5" cy="375.9" r="1.3"/>
<circle cx="267.8" cy="378.6" r="1.3"/>
<circle cx="268.0" cy="390.1" r="1.3"/>
<circle cx="268.5" cy="380.7" r="1.3"/>
<circle cx="268.7" cy="383.7" r="1.3"/>
<circle cx="268.5" cy="384.4" r="1.3"/>
<circle cx="268.9" cy="380.3" r="1.3"/>
<circle cx="269.0" cy="375.0" r="1.3"/>
<circle cx="269.6" cy="380.5" r="1.3"/>
<circle cx="269.4" cy="388.7" r="1.3"/>
<circle cx="269.4" cy="385.8" r="1.3"/>
<circle cx="270.2" cy="374.9" r="1.3"/>
<circle cx="269.9" cy="368.6" r="1.3"/>
<circle cx="270.4" cy="377.8" r="1.3"/>
<circle cx="270.7" cy="371.4" r="1.3"/>
<circle cx="271.0" cy="385.7" r="1.3"/>
<circle cx="271.0" cy="382.9" r="1.3"/>
<circle cx="271.2" cy="379.8" r="1.3"/>
<circle cx="271.2" cy="386.2" r="1.3"/>
<circle cx="271.7" cy="382.1" r="1.3"/>
<circle cx="271.7" cy="384.8" r="1.3"/>
<circle cx="271.8" cy="370.8" r="1.3"/>
<circle cx="272.0" cy="382.1" r="1.3"/>
<circle cx="272.3" cy="376.3" r="1.3"/>
<circle cx="272.5" cy="377.5" r="1.3"/>
<circle cx="272.9" cy="370.5" r="1.3"/>
<circle cx="273.0" cy="382.0" r="1.3"/>
<circle cx="273.3" cy="385.6" r="1.3"/>
<circle cx="273.5" cy="384.3" r="1.3"/>
<circle cx="273.6" cy="384.1" r="1.3"/>
<circle cx="273.8" cy="378.0" r="1.3"/>
<circle cx="274.1" cy="376.7" r="1.3"/>
<circle cx="273.9" cy="376.9" r="1.3"/>
<circle cx="274.6" cy="388.3" r="1.3"/>
<circle cx="274.4" cy="387.8" r="1.3"/>
<circle cx="274.6" cy="371.6" r="1.3"/>
<circle cx="275.0" cy="372.8" r="1.3"/>
<circle cx="275.1" cy="382.3" r="1.3"/>
<circle cx="275.5" cy="371.2" r="1.3"/>
<circle cx="275.3" cy="382.4" r="1.3"/>
<circle cx="275.6" cy="375.8" r="1.3"/>
<circle cx="276.1" cy="373.9" r="1.3"/>
<circle cx="276.3" cy="386.5" r="1.3"/>
<circle cx="276.5" cy="370.5" r="1.3"/>
<circle cx="276.5" cy="381.2" r="1.3"/>
<circle cx="276.8" cy="383.3" r="1.3"/>
<circle cx="276.8" cy="379.7" r="1.3"/>
<circle cx="277.3" cy="390.2" r="1.3"/>
<circle cx="277.5" cy="387.7" r="1.3"/>
<circle cx="277.2" cy="384.7" r="1.3"/>
<circle cx="277.5" cy="378.4" r="1.3"/>
<circle cx="277.9" cy="374.6" r="1.3"/>
<circle cx="277.9" cy="378.2" r="1.3"/>
<circle cx="278.4" cy="382.0" r="1.3"/>
<circle cx="278.5" cy="373.8" r="1.3"/>
<circle cx="278.6" cy="380.6" r="1.3"/>
<circle cx="279.0" cy="390.4" r="1.3"/>
<circle cx="279.4" cy="380.8" r="1.3"/>
<circle cx="279.4" cy="371.4" r="1.3"/>
<circle cx="279.7" cy="385.4" r="1.3"/>
<circle cx="279.8" cy="374.9" r="1.3"/>
<circle cx="280.0" cy="391.7" r="1.3"/>
<circle cx="280.0" cy="371.7" r="1.3"/>
<circle cx="280.5" cy="388.4" r="1.3"/>
<circle cx="280.5" cy="373.0" r="1.3"/>
<circle cx="280.9" cy="380.5" r="1.3"/>
<circle cx="281.2" cy="389.7" r="1.3"/>
<circle cx="281.3" cy="370.7" r="1.3"/>
<circle cx="281.1" cy="380.6" r="1.3"/>
<circle cx="281.4" cy="370.4" r="1.3"/>
<circle cx="281.9" cy="389.7" r="1.3"/>
<circle cx="281.9" cy="383.7" r="1.3"/>
<circle cx="282.0" cy="387.6" r="1.3"/>
<circle cx="282.0" cy="373.7" r="1.3"/>
<circle cx="282.6" cy="381.3" r="1.3"/>
<circle cx="282.9" cy="379.9" r="1.3"/>
<circle cx="282.6" cy="388.0" r="1.3"/>
<circle cx="283.0" cy="383.0" r="1.3"/>
<circle cx="283.5" cy="379.4" r="1.3"/>
</g>
<path d="M34.5,271.9 L83,321.6 L84.5,321.8 L86,323.5 L110,346 L130,365 L152.3,386.7 L153.6,385.9 L155.2,388 L196,426.3 L202.5,431.5 L204.5,431.4 L206,433.1 L216.5,443.6 L219,442.6 L221,444.2 L225,447.2 L227.5,446 L229.5,447.5 L233.8,451 L237.5,448.6 L242,447.7 L284,447.4" stroke="#0a0a0a" stroke-width="3.5" fill="none" stroke-linejoin="round"/>
<text x="67" y="276.2" font-size="10" text-anchor="middle" font-weight="bold" stroke="#111" stroke-width="0.35" >0</text>
<path d="M67,280 L67,294.3" stroke="#111" stroke-width="1.7" fill="none"/>
<path d="M64.1,293.3 L69.9,293.3 L67,300.8 Z" fill="#111"/>
<text x="87.5" y="290.2" font-size="10" text-anchor="middle" font-weight="bold" stroke="#111" stroke-width="0.35" >1</text>
<path d="M87.6,294.5 L87.6,309.8" stroke="#111" stroke-width="1.7" fill="none"/>
<path d="M84.69999999999999,308.8 L90.5,308.8 L87.6,316.3 Z" fill="#111"/>
<text x="155.5" y="281.2" font-size="10" text-anchor="middle" font-weight="bold" stroke="#111" stroke-width="0.35" >2</text>
<path d="M155,285 L155,299.3" stroke="#111" stroke-width="1.7" fill="none"/>
<path d="M152.1,298.3 L157.9,298.3 L155,305.8 Z" fill="#111"/>
<text x="202.6" y="319.8" font-size="10" text-anchor="middle" font-weight="bold" stroke="#111" stroke-width="0.35" >3</text>
<path d="M202.4,324.5 L202.4,339.6" stroke="#111" stroke-width="1.7" fill="none"/>
<path d="M199.5,338.6 L205.3,338.6 L202.4,346.1 Z" fill="#111"/>
<text x="219.3" y="411.9" font-size="10" text-anchor="middle" font-weight="bold" stroke="#111" stroke-width="0.35" >4</text>
<path d="M219.6,414.4 L219.6,430.1" stroke="#111" stroke-width="1.7" fill="none"/>
<path d="M216.7,429.1 L222.5,429.1 L219.6,436.6 Z" fill="#111"/>
</svg>
</body></html>
